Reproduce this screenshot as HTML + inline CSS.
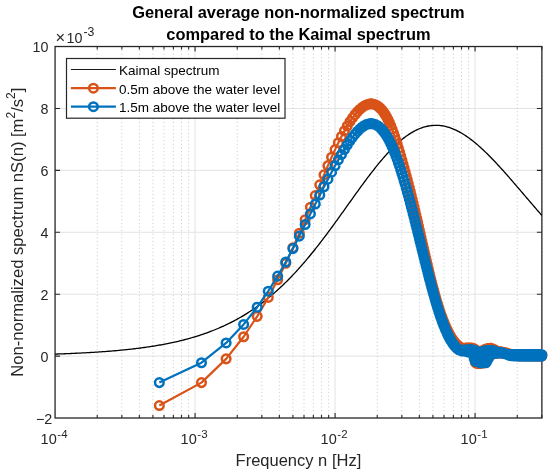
<!DOCTYPE html>
<html><head><meta charset="utf-8"><style>
html,body{margin:0;padding:0;background:#fff;width:550px;height:474px;overflow:hidden}
svg{position:absolute;left:0;top:0}
text{font-family:"Liberation Sans",sans-serif;fill:#262626;filter:grayscale(1)}
.mg{stroke:#e3e3e3;stroke-width:1}
.ng{stroke:#c8c8c8;stroke-width:1;stroke-dasharray:1 2.6}
</style></head><body>
<svg width="550" height="474" viewBox="0 0 550 474">
<defs><clipPath id="ax"><rect x="55.07" y="46.52" width="486.8" height="371.48"/></clipPath></defs>
<line x1="195.07" y1="46.52" x2="195.07" y2="418.0" class="mg"/><line x1="335.07" y1="46.52" x2="335.07" y2="418.0" class="mg"/><line x1="475.07" y1="46.52" x2="475.07" y2="418.0" class="mg"/><line x1="55.07" y1="356.1" x2="541.87" y2="356.1" class="mg"/><line x1="55.07" y1="294.18" x2="541.87" y2="294.18" class="mg"/><line x1="55.07" y1="232.27" x2="541.87" y2="232.27" class="mg"/><line x1="55.07" y1="170.35" x2="541.87" y2="170.35" class="mg"/><line x1="55.07" y1="108.44" x2="541.87" y2="108.44" class="mg"/><line x1="97.21" y1="46.52" x2="97.21" y2="418.0" class="ng"/><line x1="121.87" y1="46.52" x2="121.87" y2="418.0" class="ng"/><line x1="139.36" y1="46.52" x2="139.36" y2="418.0" class="ng"/><line x1="152.93" y1="46.52" x2="152.93" y2="418.0" class="ng"/><line x1="164.01" y1="46.52" x2="164.01" y2="418.0" class="ng"/><line x1="173.38" y1="46.52" x2="173.38" y2="418.0" class="ng"/><line x1="181.5" y1="46.52" x2="181.5" y2="418.0" class="ng"/><line x1="188.66" y1="46.52" x2="188.66" y2="418.0" class="ng"/><line x1="237.21" y1="46.52" x2="237.21" y2="418.0" class="ng"/><line x1="261.87" y1="46.52" x2="261.87" y2="418.0" class="ng"/><line x1="279.36" y1="46.52" x2="279.36" y2="418.0" class="ng"/><line x1="292.93" y1="46.52" x2="292.93" y2="418.0" class="ng"/><line x1="304.01" y1="46.52" x2="304.01" y2="418.0" class="ng"/><line x1="313.38" y1="46.52" x2="313.38" y2="418.0" class="ng"/><line x1="321.5" y1="46.52" x2="321.5" y2="418.0" class="ng"/><line x1="328.66" y1="46.52" x2="328.66" y2="418.0" class="ng"/><line x1="377.21" y1="46.52" x2="377.21" y2="418.0" class="ng"/><line x1="401.87" y1="46.52" x2="401.87" y2="418.0" class="ng"/><line x1="419.36" y1="46.52" x2="419.36" y2="418.0" class="ng"/><line x1="432.93" y1="46.52" x2="432.93" y2="418.0" class="ng"/><line x1="444.01" y1="46.52" x2="444.01" y2="418.0" class="ng"/><line x1="453.38" y1="46.52" x2="453.38" y2="418.0" class="ng"/><line x1="461.5" y1="46.52" x2="461.5" y2="418.0" class="ng"/><line x1="468.66" y1="46.52" x2="468.66" y2="418.0" class="ng"/><line x1="517.21" y1="46.52" x2="517.21" y2="418.0" class="ng"/><line x1="541.87" y1="46.52" x2="541.87" y2="418.0" class="ng"/>
<path d="M195.07 418.0v-5M195.07 46.52v5M335.07 418.0v-5M335.07 46.52v5M475.07 418.0v-5M475.07 46.52v5M97.21 418.0v-3M97.21 46.52v3M121.87 418.0v-3M121.87 46.52v3M139.36 418.0v-3M139.36 46.52v3M152.93 418.0v-3M152.93 46.52v3M164.01 418.0v-3M164.01 46.52v3M173.38 418.0v-3M173.38 46.52v3M181.5 418.0v-3M181.5 46.52v3M188.66 418.0v-3M188.66 46.52v3M237.21 418.0v-3M237.21 46.52v3M261.87 418.0v-3M261.87 46.52v3M279.36 418.0v-3M279.36 46.52v3M292.93 418.0v-3M292.93 46.52v3M304.01 418.0v-3M304.01 46.52v3M313.38 418.0v-3M313.38 46.52v3M321.5 418.0v-3M321.5 46.52v3M328.66 418.0v-3M328.66 46.52v3M377.21 418.0v-3M377.21 46.52v3M401.87 418.0v-3M401.87 46.52v3M419.36 418.0v-3M419.36 46.52v3M432.93 418.0v-3M432.93 46.52v3M444.01 418.0v-3M444.01 46.52v3M453.38 418.0v-3M453.38 46.52v3M461.5 418.0v-3M461.5 46.52v3M468.66 418.0v-3M468.66 46.52v3M517.21 418.0v-3M517.21 46.52v3M541.87 418.0v-3M541.87 46.52v3M55.07 356.1h5M541.87 356.1h-5M55.07 294.18h5M541.87 294.18h-5M55.07 232.27h5M541.87 232.27h-5M55.07 170.35h5M541.87 170.35h-5M55.07 108.44h5M541.87 108.44h-5" stroke="#262626" stroke-width="1.1" fill="none"/>
<rect x="55.07" y="46.52" width="486.8" height="371.48" fill="none" stroke="#262626" stroke-width="1.3"/>
<polyline clip-path="url(#ax)" points="55.07,354.08 56.29,354.04 57.51,354 58.73,353.96 59.95,353.91 61.17,353.87 62.39,353.83 63.61,353.78 64.83,353.73 66.05,353.69 67.27,353.64 68.49,353.59 69.71,353.54 70.93,353.48 72.15,353.43 73.37,353.38 74.59,353.32 75.81,353.27 77.03,353.21 78.25,353.15 79.47,353.09 80.69,353.03 81.91,352.97 83.13,352.91 84.35,352.84 85.57,352.78 86.79,352.71 88.01,352.64 89.23,352.57 90.45,352.5 91.67,352.43 92.89,352.36 94.11,352.28 95.33,352.2 96.55,352.13 97.77,352.05 98.99,351.97 100.21,351.88 101.43,351.8 102.65,351.71 103.87,351.62 105.09,351.53 106.31,351.44 107.53,351.35 108.75,351.25 109.97,351.16 111.19,351.06 112.41,350.96 113.63,350.85 114.85,350.75 116.07,350.64 117.29,350.53 118.51,350.42 119.73,350.31 120.95,350.19 122.17,350.07 123.39,349.95 124.61,349.83 125.83,349.71 127.05,349.58 128.27,349.45 129.49,349.32 130.71,349.18 131.93,349.04 133.15,348.9 134.37,348.76 135.59,348.61 136.81,348.46 138.03,348.31 139.25,348.16 140.47,348 141.69,347.84 142.91,347.67 144.13,347.51 145.35,347.34 146.57,347.16 147.79,346.98 149.01,346.8 150.23,346.62 151.45,346.43 152.67,346.24 153.89,346.04 155.11,345.85 156.33,345.64 157.55,345.44 158.77,345.23 159.99,345.01 161.21,344.79 162.43,344.57 163.65,344.34 164.87,344.11 166.09,343.88 167.31,343.64 168.53,343.39 169.75,343.14 170.97,342.89 172.19,342.63 173.41,342.36 174.63,342.09 175.85,341.82 177.07,341.54 178.29,341.26 179.51,340.97 180.73,340.67 181.95,340.37 183.17,340.06 184.39,339.75 185.61,339.43 186.83,339.11 188.05,338.78 189.27,338.44 190.49,338.1 191.71,337.75 192.93,337.39 194.15,337.03 195.37,336.66 196.59,336.29 197.81,335.91 199.04,335.52 200.26,335.12 201.48,334.72 202.7,334.31 203.92,333.89 205.14,333.46 206.36,333.03 207.58,332.59 208.8,332.14 210.02,331.68 211.24,331.22 212.46,330.74 213.68,330.26 214.9,329.77 216.12,329.27 217.34,328.77 218.56,328.25 219.78,327.72 221,327.19 222.22,326.64 223.44,326.09 224.66,325.53 225.88,324.95 227.1,324.37 228.32,323.78 229.54,323.18 230.76,322.56 231.98,321.94 233.2,321.31 234.42,320.66 235.64,320.01 236.86,319.34 238.08,318.66 239.3,317.98 240.52,317.28 241.74,316.57 242.96,315.84 244.18,315.11 245.4,314.36 246.62,313.61 247.84,312.84 249.06,312.05 250.28,311.26 251.5,310.45 252.72,309.63 253.94,308.8 255.16,307.96 256.38,307.1 257.6,306.23 258.82,305.34 260.04,304.45 261.26,303.54 262.48,302.61 263.7,301.68 264.92,300.73 266.14,299.76 267.36,298.78 268.58,297.79 269.8,296.78 271.02,295.76 272.24,294.73 273.46,293.68 274.68,292.62 275.9,291.54 277.12,290.45 278.34,289.34 279.56,288.22 280.78,287.08 282,285.93 283.22,284.77 284.44,283.59 285.66,282.4 286.88,281.19 288.1,279.96 289.32,278.73 290.54,277.47 291.76,276.21 292.98,274.92 294.2,273.63 295.42,272.32 296.64,270.99 297.86,269.65 299.08,268.3 300.3,266.93 301.52,265.55 302.74,264.16 303.96,262.75 305.18,261.32 306.4,259.89 307.62,258.44 308.84,256.97 310.06,255.5 311.28,254.01 312.5,252.51 313.72,250.99 314.94,249.47 316.16,247.93 317.38,246.38 318.6,244.82 319.82,243.25 321.04,241.67 322.26,240.07 323.48,238.47 324.7,236.86 325.92,235.24 327.14,233.61 328.36,231.97 329.58,230.32 330.8,228.66 332.02,227 333.24,225.33 334.46,223.65 335.68,221.97 336.9,220.28 338.12,218.59 339.34,216.89 340.56,215.19 341.78,213.48 343,211.77 344.22,210.06 345.44,208.35 346.66,206.64 347.88,204.92 349.1,203.21 350.32,201.5 351.54,199.79 352.76,198.08 353.98,196.37 355.2,194.67 356.42,192.97 357.64,191.27 358.86,189.59 360.08,187.9 361.3,186.23 362.52,184.56 363.74,182.9 364.96,181.25 366.18,179.61 367.4,177.98 368.62,176.37 369.84,174.76 371.06,173.17 372.28,171.59 373.5,170.03 374.72,168.48 375.94,166.95 377.16,165.43 378.38,163.94 379.6,162.46 380.82,161 382.04,159.56 383.26,158.14 384.48,156.74 385.7,155.37 386.92,154.02 388.14,152.69 389.36,151.38 390.58,150.1 391.8,148.85 393.02,147.63 394.24,146.43 395.46,145.25 396.68,144.11 397.9,143 399.12,141.91 400.34,140.86 401.56,139.84 402.78,138.84 404,137.88 405.22,136.96 406.44,136.06 407.66,135.2 408.88,134.37 410.1,133.58 411.32,132.82 412.54,132.1 413.76,131.41 414.98,130.75 416.2,130.14 417.42,129.56 418.64,129.01 419.86,128.51 421.08,128.04 422.3,127.6 423.52,127.21 424.74,126.85 425.96,126.53 427.18,126.24 428.4,126 429.62,125.79 430.84,125.62 432.06,125.49 433.28,125.39 434.5,125.33 435.72,125.31 436.94,125.33 438.16,125.38 439.38,125.47 440.6,125.6 441.82,125.76 443.04,125.96 444.26,126.19 445.48,126.46 446.7,126.77 447.92,127.11 449.14,127.49 450.36,127.9 451.58,128.34 452.8,128.82 454.02,129.33 455.24,129.87 456.46,130.44 457.68,131.05 458.9,131.68 460.12,132.35 461.34,133.05 462.56,133.77 463.78,134.53 465,135.31 466.22,136.12 467.44,136.96 468.66,137.83 469.88,138.72 471.1,139.64 472.32,140.58 473.54,141.54 474.76,142.53 475.98,143.54 477.2,144.58 478.42,145.63 479.64,146.71 480.86,147.81 482.08,148.92 483.3,150.06 484.52,151.21 485.75,152.38 486.97,153.57 488.19,154.78 489.41,156 490.63,157.24 491.85,158.49 493.07,159.75 494.29,161.03 495.51,162.32 496.73,163.63 497.95,164.94 499.17,166.27 500.39,167.6 501.61,168.95 502.83,170.3 504.05,171.67 505.27,173.04 506.49,174.42 507.71,175.8 508.93,177.19 510.15,178.59 511.37,180 512.59,181.4 513.81,182.82 515.03,184.23 516.25,185.65 517.47,187.07 518.69,188.5 519.91,189.92 521.13,191.35 522.35,192.78 523.57,194.21 524.79,195.64 526.01,197.07 527.23,198.5 528.45,199.92 529.67,201.35 530.89,202.77 532.11,204.2 533.33,205.61 534.55,207.03 535.77,208.45 536.99,209.86 538.21,211.26 539.43,212.66 540.65,214.06 541.87,215.45" fill="none" stroke="#000" stroke-width="1.3"/>
<polyline clip-path="url(#ax)" points="159.33,405.57 201.48,382.61 226.13,358.87 243.62,336.75 257.19,316.33 268.27,297.41 277.65,279.78 285.76,263.25 292.93,247.71 299.33,233.19 305.13,219.7 310.42,207.18 315.28,195.57 319.79,184.81 323.98,174.84 327.91,165.66 331.59,157.26 335.07,149.62 338.36,142.7 341.48,136.48 344.44,130.91 347.27,125.97 349.97,121.61 352.56,117.81 355.04,114.54 357.43,111.75 359.72,109.43 361.93,107.55 364.07,106.08 366.13,104.99 368.12,104.28 370.05,103.91 371.92,103.89 373.74,104.19 375.5,104.82 377.21,105.74 378.88,106.96 380.5,108.46 382.08,110.23 383.62,112.25 385.12,114.53 386.59,117.04 388.02,119.79 389.42,122.75 390.78,125.92 392.12,129.3 393.43,132.86 394.71,136.55 395.96,140.36 397.19,144.25 398.39,148.2 399.57,152.17 400.73,156.16 401.87,160.13 402.98,164.09 404.08,168.03 405.15,171.96 406.21,175.88 407.25,179.79 408.27,183.7 409.28,187.6 410.27,191.5 411.24,195.4 412.2,199.3 413.14,203.2 414.07,207.1 414.98,210.98 415.88,214.86 416.77,218.71 417.65,222.53 418.51,226.32 419.36,230.07 420.2,233.78 421.02,237.44 421.84,241.05 422.65,244.61 423.44,248.12 424.23,251.57 425,254.95 425.76,258.28 426.52,261.53 427.27,264.73 428,267.85 428.73,270.91 429.45,273.89 430.16,276.8 430.86,279.65 431.56,282.41 432.25,285.11 432.93,287.73 433.6,290.27 434.26,292.74 434.92,295.13 435.57,297.45 436.21,299.69 436.85,301.85 437.48,303.95 438.1,305.97 438.72,307.92 439.33,309.8 439.94,311.62 440.54,313.38 441.13,315.07 441.72,316.71 442.3,318.29 442.87,319.81 443.45,321.27 444.01,322.69 444.57,324.05 445.13,325.36 445.68,326.62 446.22,327.84 446.76,329.01 447.3,330.13 447.83,331.21 448.36,332.25 448.88,333.25 449.4,334.2 449.91,335.12 450.42,336 450.92,336.84 451.42,337.64 451.92,338.41 452.41,339.15 452.9,339.85 453.38,340.52 453.86,341.16 454.34,341.76 454.81,342.34 455.28,342.88 455.75,343.4 456.21,343.89 456.67,344.35 457.13,344.78 457.58,345.19 458.03,345.57 458.47,345.93 458.91,346.26 459.35,346.57 459.79,346.85 460.22,347.11 460.65,347.35 461.08,347.57 461.5,347.77 461.92,347.95 462.34,348.1 462.76,348.24 463.17,348.36 463.58,348.46 463.98,348.54 464.39,349.19 464.79,348.31 465.19,349.59 465.58,348.14 465.98,349.99 466.37,348.03 466.76,350.38 467.14,348 467.53,350.76 467.91,348 468.29,351.14 468.66,348 469.04,351.52 469.41,348 469.78,351.89 470.15,348 470.51,352.26 470.88,348.03 471.24,352.61 471.59,348.1 471.95,352.86 472.31,348.2 472.66,353.11 473.01,348.32 473.36,353.46 473.7,348.5 474.05,354.08 474.39,348.93 474.73,358.85 475.07,349.49 475.41,362.43 475.74,350 476.08,363.04 476.41,350.41 476.74,363.36 477.06,350.85 477.39,363.43 477.71,351.26 478.04,363.46 478.36,351.59 478.68,363.48 478.99,351.78 479.31,363.5 479.62,351.78 479.94,363.5 480.25,351.63 480.56,363.48 480.86,351.38 481.17,363.4 481.48,351.08 481.78,363.29 482.08,350.78 482.38,363.15 482.68,350.51 482.98,363.01 483.27,350.26 483.57,362.83 483.86,349.98 484.15,362.61 484.44,349.7 484.73,362.33 485.02,349.42 485.3,361.99 485.59,349.18 485.87,361.6 486.16,348.98 486.44,361.03 486.72,348.83 486.99,360.16 487.27,348.74 487.55,359.2 487.82,348.66 488.09,358.37 488.37,348.59 488.64,357.62 488.91,348.53 489.18,356.9 489.44,348.48 489.71,356.28 489.97,348.44 490.24,355.79 490.5,348.41 490.76,355.35 491.02,348.4 491.28,354.95 491.54,348.44 491.8,354.6 492.05,348.56 492.31,354.3 492.56,348.76 492.81,354.07 493.07,348.99 493.32,353.89 493.57,349.24 493.82,353.74 494.06,349.5 494.31,353.61 494.56,349.72 494.8,353.5 495.04,349.97 495.29,353.4 495.53,350.24 495.77,353.33 496.01,350.53 496.25,353.27 496.49,350.81 496.72,353.22 496.96,351.06 497.19,353.17 497.43,351.27 497.66,353.12 497.89,351.43 498.13,353.08 498.36,351.54 498.59,353.05 498.82,351.64 499.04,353.02 499.27,351.73 499.5,353.01 499.72,351.81 499.95,353 500.17,351.88 500.39,353 500.62,351.95 500.84,353.01 501.06,352.02 501.28,353.03 501.5,352.09 501.72,353.06 501.93,352.17 502.15,353.09 502.37,352.25 502.58,353.12 502.8,352.34 503.01,353.16 503.22,352.43 503.44,353.21 503.65,352.52 503.86,353.25 504.07,352.61 504.28,353.3 504.49,352.7 504.69,353.35 504.9,352.79 505.11,353.39 505.31,352.88 505.52,353.44 505.72,352.97 505.93,353.49 506.13,353.06 506.33,353.54 506.53,353.15 506.73,353.61 506.93,353.25 507.13,353.68 507.33,353.35 507.53,353.77 507.73,353.45 507.93,353.86 508.12,353.56 508.32,353.96 508.51,353.67 508.71,354.07 508.9,353.78 509.1,354.18 509.29,353.9 509.48,354.29 509.67,354.01 509.86,354.4 510.05,354.12 510.24,354.51 510.43,354.22 510.62,354.62 510.81,354.33 511,354.73 511.18,354.43 511.37,354.84 511.55,354.52 511.74,354.94 511.92,354.61 512.11,355.03 512.29,354.69 512.47,355.12 512.66,354.76 512.84,355.21 513.02,354.82 513.2,355.28 513.38,354.88 513.56,355.34 513.74,354.93 513.92,355.4 514.1,354.96 514.27,355.44 514.45,354.99 514.63,355.48 514.8,355 514.98,355.5 515.15,355 515.33,355.51 515.5,355 515.67,355.53 515.85,355 516.02,355.54 516.19,355 516.36,355.55 516.53,355 516.71,355.57 516.88,355 517.05,355.58 517.21,355 517.38,355.59 517.55,355 517.72,355.6 517.89,355 518.05,355.61 518.22,355 518.39,355.63 518.55,355 518.72,355.64 518.88,355 519.04,355.65 519.21,355 519.37,355.66 519.53,355 519.7,355.67 519.86,355 520.02,355.68 520.18,355 520.34,355.69 520.5,355 520.66,355.7 520.82,355 520.98,355.71 521.14,355 521.3,355.72 521.45,355 521.61,355.73 521.77,355 521.92,355.73 522.08,355 522.24,355.74 522.39,355 522.55,355.75 522.7,355 522.86,355.76 523.01,355 523.16,355.77 523.32,355 523.47,355.78 523.62,355 523.77,355.78 523.92,355 524.07,355.79 524.23,355 524.38,355.8 524.53,355 524.68,355.81 524.82,355 524.97,355.81 525.12,355 525.27,355.82 525.42,355 525.56,355.83 525.71,355 525.86,355.83 526,355 526.15,355.84 526.3,355 526.44,355.85 526.59,355 526.73,355.85 526.88,355 527.02,355.86 527.16,355 527.31,355.86 527.45,355 527.59,355.87 527.73,355 527.88,355.87 528.02,355 528.16,355.88 528.3,355 528.44,355.88 528.58,355 528.72,355.89 528.86,355 529,355.89 529.14,355 529.28,355.9 529.42,355 529.55,355.9 529.69,355 529.83,355.91 529.97,355 530.1,355.91 530.24,355 530.37,355.92 530.51,355 530.65,355.92 530.78,355 530.92,355.92 531.05,355 531.19,355.93 531.32,355 531.45,355.93 531.59,355 531.72,355.93 531.85,355 531.99,355.94 532.12,355 532.25,355.94 532.38,355 532.51,355.94 532.64,355 532.78,355.95 532.91,355 533.04,355.95 533.17,355 533.3,355.95 533.43,355 533.55,355.96 533.68,355 533.81,355.96 533.94,355 534.07,355.96 534.2,355 534.32,355.96 534.45,355 534.58,355.97 534.71,355 534.83,355.97 534.96,355 535.08,355.97 535.21,355 535.34,355.97 535.46,355 535.59,355.98 535.71,355 535.84,355.98 535.96,355 536.08,355.98 536.21,355 536.33,355.98 536.45,355 536.58,355.98 536.7,355 536.82,355.98 536.94,355 537.07,355.99 537.19,355 537.31,355.99 537.43,355 537.55,355.99 537.67,355 537.79,355.99 537.91,355 538.03,355.99 538.15,355 538.27,355.99 538.39,355 538.51,355.99 538.63,355 538.75,355.99 538.87,355 538.98,355.99 539.1,355 539.22,356 539.34,355 539.46,356 539.57,355 539.69,356 539.81,355 539.92,356 540.04,355 540.15,356 540.27,355 540.39,356 540.5,355 540.62,356 540.73,355 540.85,356 540.96,355 541.07,356 541.19,355 541.3,356 541.41,355 541.53,356 541.64,355 541.75,356 541.87,355" fill="none" stroke="#D95319" stroke-width="2.2" stroke-linejoin="round"/>
<path d="M155.03 405.57a4.3 4.3 0 1 0 8.6 0a4.3 4.3 0 1 0 -8.6 0M197.18 382.61a4.3 4.3 0 1 0 8.6 0a4.3 4.3 0 1 0 -8.6 0M221.83 358.87a4.3 4.3 0 1 0 8.6 0a4.3 4.3 0 1 0 -8.6 0M239.32 336.75a4.3 4.3 0 1 0 8.6 0a4.3 4.3 0 1 0 -8.6 0M252.89 316.33a4.3 4.3 0 1 0 8.6 0a4.3 4.3 0 1 0 -8.6 0M263.97 297.41a4.3 4.3 0 1 0 8.6 0a4.3 4.3 0 1 0 -8.6 0M273.35 279.78a4.3 4.3 0 1 0 8.6 0a4.3 4.3 0 1 0 -8.6 0M281.46 263.25a4.3 4.3 0 1 0 8.6 0a4.3 4.3 0 1 0 -8.6 0M288.63 247.71a4.3 4.3 0 1 0 8.6 0a4.3 4.3 0 1 0 -8.6 0M295.03 233.19a4.3 4.3 0 1 0 8.6 0a4.3 4.3 0 1 0 -8.6 0M300.83 219.7a4.3 4.3 0 1 0 8.6 0a4.3 4.3 0 1 0 -8.6 0M306.12 207.18a4.3 4.3 0 1 0 8.6 0a4.3 4.3 0 1 0 -8.6 0M310.98 195.57a4.3 4.3 0 1 0 8.6 0a4.3 4.3 0 1 0 -8.6 0M315.49 184.81a4.3 4.3 0 1 0 8.6 0a4.3 4.3 0 1 0 -8.6 0M319.68 174.84a4.3 4.3 0 1 0 8.6 0a4.3 4.3 0 1 0 -8.6 0M323.61 165.66a4.3 4.3 0 1 0 8.6 0a4.3 4.3 0 1 0 -8.6 0M327.29 157.26a4.3 4.3 0 1 0 8.6 0a4.3 4.3 0 1 0 -8.6 0M330.77 149.62a4.3 4.3 0 1 0 8.6 0a4.3 4.3 0 1 0 -8.6 0M334.06 142.7a4.3 4.3 0 1 0 8.6 0a4.3 4.3 0 1 0 -8.6 0M337.18 136.48a4.3 4.3 0 1 0 8.6 0a4.3 4.3 0 1 0 -8.6 0M340.14 130.91a4.3 4.3 0 1 0 8.6 0a4.3 4.3 0 1 0 -8.6 0M342.97 125.97a4.3 4.3 0 1 0 8.6 0a4.3 4.3 0 1 0 -8.6 0M345.67 121.61a4.3 4.3 0 1 0 8.6 0a4.3 4.3 0 1 0 -8.6 0M348.26 117.81a4.3 4.3 0 1 0 8.6 0a4.3 4.3 0 1 0 -8.6 0M350.74 114.54a4.3 4.3 0 1 0 8.6 0a4.3 4.3 0 1 0 -8.6 0M353.13 111.75a4.3 4.3 0 1 0 8.6 0a4.3 4.3 0 1 0 -8.6 0M355.42 109.43a4.3 4.3 0 1 0 8.6 0a4.3 4.3 0 1 0 -8.6 0M357.63 107.55a4.3 4.3 0 1 0 8.6 0a4.3 4.3 0 1 0 -8.6 0M359.77 106.08a4.3 4.3 0 1 0 8.6 0a4.3 4.3 0 1 0 -8.6 0M361.83 104.99a4.3 4.3 0 1 0 8.6 0a4.3 4.3 0 1 0 -8.6 0M363.82 104.28a4.3 4.3 0 1 0 8.6 0a4.3 4.3 0 1 0 -8.6 0M365.75 103.91a4.3 4.3 0 1 0 8.6 0a4.3 4.3 0 1 0 -8.6 0M367.62 103.89a4.3 4.3 0 1 0 8.6 0a4.3 4.3 0 1 0 -8.6 0M369.44 104.19a4.3 4.3 0 1 0 8.6 0a4.3 4.3 0 1 0 -8.6 0M371.2 104.82a4.3 4.3 0 1 0 8.6 0a4.3 4.3 0 1 0 -8.6 0M372.91 105.74a4.3 4.3 0 1 0 8.6 0a4.3 4.3 0 1 0 -8.6 0M374.58 106.96a4.3 4.3 0 1 0 8.6 0a4.3 4.3 0 1 0 -8.6 0M376.2 108.46a4.3 4.3 0 1 0 8.6 0a4.3 4.3 0 1 0 -8.6 0M377.78 110.23a4.3 4.3 0 1 0 8.6 0a4.3 4.3 0 1 0 -8.6 0M379.32 112.25a4.3 4.3 0 1 0 8.6 0a4.3 4.3 0 1 0 -8.6 0M380.82 114.53a4.3 4.3 0 1 0 8.6 0a4.3 4.3 0 1 0 -8.6 0M382.29 117.04a4.3 4.3 0 1 0 8.6 0a4.3 4.3 0 1 0 -8.6 0M383.72 119.79a4.3 4.3 0 1 0 8.6 0a4.3 4.3 0 1 0 -8.6 0M385.12 122.75a4.3 4.3 0 1 0 8.6 0a4.3 4.3 0 1 0 -8.6 0M386.48 125.92a4.3 4.3 0 1 0 8.6 0a4.3 4.3 0 1 0 -8.6 0M387.82 129.3a4.3 4.3 0 1 0 8.6 0a4.3 4.3 0 1 0 -8.6 0M389.13 132.86a4.3 4.3 0 1 0 8.6 0a4.3 4.3 0 1 0 -8.6 0M390.41 136.55a4.3 4.3 0 1 0 8.6 0a4.3 4.3 0 1 0 -8.6 0M391.66 140.36a4.3 4.3 0 1 0 8.6 0a4.3 4.3 0 1 0 -8.6 0M392.89 144.25a4.3 4.3 0 1 0 8.6 0a4.3 4.3 0 1 0 -8.6 0M394.09 148.2a4.3 4.3 0 1 0 8.6 0a4.3 4.3 0 1 0 -8.6 0M395.27 152.17a4.3 4.3 0 1 0 8.6 0a4.3 4.3 0 1 0 -8.6 0M396.43 156.16a4.3 4.3 0 1 0 8.6 0a4.3 4.3 0 1 0 -8.6 0M397.57 160.13a4.3 4.3 0 1 0 8.6 0a4.3 4.3 0 1 0 -8.6 0M398.68 164.09a4.3 4.3 0 1 0 8.6 0a4.3 4.3 0 1 0 -8.6 0M399.78 168.03a4.3 4.3 0 1 0 8.6 0a4.3 4.3 0 1 0 -8.6 0M400.85 171.96a4.3 4.3 0 1 0 8.6 0a4.3 4.3 0 1 0 -8.6 0M401.91 175.88a4.3 4.3 0 1 0 8.6 0a4.3 4.3 0 1 0 -8.6 0M402.95 179.79a4.3 4.3 0 1 0 8.6 0a4.3 4.3 0 1 0 -8.6 0M403.97 183.7a4.3 4.3 0 1 0 8.6 0a4.3 4.3 0 1 0 -8.6 0M404.98 187.6a4.3 4.3 0 1 0 8.6 0a4.3 4.3 0 1 0 -8.6 0M405.97 191.5a4.3 4.3 0 1 0 8.6 0a4.3 4.3 0 1 0 -8.6 0M406.94 195.4a4.3 4.3 0 1 0 8.6 0a4.3 4.3 0 1 0 -8.6 0M407.9 199.3a4.3 4.3 0 1 0 8.6 0a4.3 4.3 0 1 0 -8.6 0M408.84 203.2a4.3 4.3 0 1 0 8.6 0a4.3 4.3 0 1 0 -8.6 0M409.77 207.1a4.3 4.3 0 1 0 8.6 0a4.3 4.3 0 1 0 -8.6 0M410.68 210.98a4.3 4.3 0 1 0 8.6 0a4.3 4.3 0 1 0 -8.6 0M411.58 214.86a4.3 4.3 0 1 0 8.6 0a4.3 4.3 0 1 0 -8.6 0M412.47 218.71a4.3 4.3 0 1 0 8.6 0a4.3 4.3 0 1 0 -8.6 0M413.35 222.53a4.3 4.3 0 1 0 8.6 0a4.3 4.3 0 1 0 -8.6 0M414.21 226.32a4.3 4.3 0 1 0 8.6 0a4.3 4.3 0 1 0 -8.6 0M415.06 230.07a4.3 4.3 0 1 0 8.6 0a4.3 4.3 0 1 0 -8.6 0M415.9 233.78a4.3 4.3 0 1 0 8.6 0a4.3 4.3 0 1 0 -8.6 0M416.72 237.44a4.3 4.3 0 1 0 8.6 0a4.3 4.3 0 1 0 -8.6 0M417.54 241.05a4.3 4.3 0 1 0 8.6 0a4.3 4.3 0 1 0 -8.6 0M418.35 244.61a4.3 4.3 0 1 0 8.6 0a4.3 4.3 0 1 0 -8.6 0M419.14 248.12a4.3 4.3 0 1 0 8.6 0a4.3 4.3 0 1 0 -8.6 0M419.93 251.57a4.3 4.3 0 1 0 8.6 0a4.3 4.3 0 1 0 -8.6 0M420.7 254.95a4.3 4.3 0 1 0 8.6 0a4.3 4.3 0 1 0 -8.6 0M421.46 258.28a4.3 4.3 0 1 0 8.6 0a4.3 4.3 0 1 0 -8.6 0M422.22 261.53a4.3 4.3 0 1 0 8.6 0a4.3 4.3 0 1 0 -8.6 0M422.97 264.73a4.3 4.3 0 1 0 8.6 0a4.3 4.3 0 1 0 -8.6 0M423.7 267.85a4.3 4.3 0 1 0 8.6 0a4.3 4.3 0 1 0 -8.6 0M424.43 270.91a4.3 4.3 0 1 0 8.6 0a4.3 4.3 0 1 0 -8.6 0M425.15 273.89a4.3 4.3 0 1 0 8.6 0a4.3 4.3 0 1 0 -8.6 0M425.86 276.8a4.3 4.3 0 1 0 8.6 0a4.3 4.3 0 1 0 -8.6 0M426.56 279.65a4.3 4.3 0 1 0 8.6 0a4.3 4.3 0 1 0 -8.6 0M427.26 282.41a4.3 4.3 0 1 0 8.6 0a4.3 4.3 0 1 0 -8.6 0M427.95 285.11a4.3 4.3 0 1 0 8.6 0a4.3 4.3 0 1 0 -8.6 0M428.63 287.73a4.3 4.3 0 1 0 8.6 0a4.3 4.3 0 1 0 -8.6 0M429.3 290.27a4.3 4.3 0 1 0 8.6 0a4.3 4.3 0 1 0 -8.6 0M429.96 292.74a4.3 4.3 0 1 0 8.6 0a4.3 4.3 0 1 0 -8.6 0M430.62 295.13a4.3 4.3 0 1 0 8.6 0a4.3 4.3 0 1 0 -8.6 0M431.27 297.45a4.3 4.3 0 1 0 8.6 0a4.3 4.3 0 1 0 -8.6 0M431.91 299.69a4.3 4.3 0 1 0 8.6 0a4.3 4.3 0 1 0 -8.6 0M432.55 301.85a4.3 4.3 0 1 0 8.6 0a4.3 4.3 0 1 0 -8.6 0M433.18 303.95a4.3 4.3 0 1 0 8.6 0a4.3 4.3 0 1 0 -8.6 0M433.8 305.97a4.3 4.3 0 1 0 8.6 0a4.3 4.3 0 1 0 -8.6 0M434.42 307.92a4.3 4.3 0 1 0 8.6 0a4.3 4.3 0 1 0 -8.6 0M435.03 309.8a4.3 4.3 0 1 0 8.6 0a4.3 4.3 0 1 0 -8.6 0M435.64 311.62a4.3 4.3 0 1 0 8.6 0a4.3 4.3 0 1 0 -8.6 0M436.24 313.38a4.3 4.3 0 1 0 8.6 0a4.3 4.3 0 1 0 -8.6 0M436.83 315.07a4.3 4.3 0 1 0 8.6 0a4.3 4.3 0 1 0 -8.6 0M437.42 316.71a4.3 4.3 0 1 0 8.6 0a4.3 4.3 0 1 0 -8.6 0M438 318.29a4.3 4.3 0 1 0 8.6 0a4.3 4.3 0 1 0 -8.6 0M438.57 319.81a4.3 4.3 0 1 0 8.6 0a4.3 4.3 0 1 0 -8.6 0M439.15 321.27a4.3 4.3 0 1 0 8.6 0a4.3 4.3 0 1 0 -8.6 0M439.71 322.69a4.3 4.3 0 1 0 8.6 0a4.3 4.3 0 1 0 -8.6 0M440.27 324.05a4.3 4.3 0 1 0 8.6 0a4.3 4.3 0 1 0 -8.6 0M440.83 325.36a4.3 4.3 0 1 0 8.6 0a4.3 4.3 0 1 0 -8.6 0M441.38 326.62a4.3 4.3 0 1 0 8.6 0a4.3 4.3 0 1 0 -8.6 0M441.92 327.84a4.3 4.3 0 1 0 8.6 0a4.3 4.3 0 1 0 -8.6 0M442.46 329.01a4.3 4.3 0 1 0 8.6 0a4.3 4.3 0 1 0 -8.6 0M443 330.13a4.3 4.3 0 1 0 8.6 0a4.3 4.3 0 1 0 -8.6 0M443.53 331.21a4.3 4.3 0 1 0 8.6 0a4.3 4.3 0 1 0 -8.6 0M444.06 332.25a4.3 4.3 0 1 0 8.6 0a4.3 4.3 0 1 0 -8.6 0M444.58 333.25a4.3 4.3 0 1 0 8.6 0a4.3 4.3 0 1 0 -8.6 0M445.1 334.2a4.3 4.3 0 1 0 8.6 0a4.3 4.3 0 1 0 -8.6 0M445.61 335.12a4.3 4.3 0 1 0 8.6 0a4.3 4.3 0 1 0 -8.6 0M446.12 336a4.3 4.3 0 1 0 8.6 0a4.3 4.3 0 1 0 -8.6 0M446.62 336.84a4.3 4.3 0 1 0 8.6 0a4.3 4.3 0 1 0 -8.6 0M447.12 337.64a4.3 4.3 0 1 0 8.6 0a4.3 4.3 0 1 0 -8.6 0M447.62 338.41a4.3 4.3 0 1 0 8.6 0a4.3 4.3 0 1 0 -8.6 0M448.11 339.15a4.3 4.3 0 1 0 8.6 0a4.3 4.3 0 1 0 -8.6 0M448.6 339.85a4.3 4.3 0 1 0 8.6 0a4.3 4.3 0 1 0 -8.6 0M449.08 340.52a4.3 4.3 0 1 0 8.6 0a4.3 4.3 0 1 0 -8.6 0M449.56 341.16a4.3 4.3 0 1 0 8.6 0a4.3 4.3 0 1 0 -8.6 0M450.04 341.76a4.3 4.3 0 1 0 8.6 0a4.3 4.3 0 1 0 -8.6 0M450.51 342.34a4.3 4.3 0 1 0 8.6 0a4.3 4.3 0 1 0 -8.6 0M450.98 342.88a4.3 4.3 0 1 0 8.6 0a4.3 4.3 0 1 0 -8.6 0M451.45 343.4a4.3 4.3 0 1 0 8.6 0a4.3 4.3 0 1 0 -8.6 0M451.91 343.89a4.3 4.3 0 1 0 8.6 0a4.3 4.3 0 1 0 -8.6 0M452.37 344.35a4.3 4.3 0 1 0 8.6 0a4.3 4.3 0 1 0 -8.6 0M452.83 344.78a4.3 4.3 0 1 0 8.6 0a4.3 4.3 0 1 0 -8.6 0M453.28 345.19a4.3 4.3 0 1 0 8.6 0a4.3 4.3 0 1 0 -8.6 0M453.73 345.57a4.3 4.3 0 1 0 8.6 0a4.3 4.3 0 1 0 -8.6 0M454.17 345.93a4.3 4.3 0 1 0 8.6 0a4.3 4.3 0 1 0 -8.6 0M454.61 346.26a4.3 4.3 0 1 0 8.6 0a4.3 4.3 0 1 0 -8.6 0M455.05 346.57a4.3 4.3 0 1 0 8.6 0a4.3 4.3 0 1 0 -8.6 0M455.49 346.85a4.3 4.3 0 1 0 8.6 0a4.3 4.3 0 1 0 -8.6 0M455.92 347.11a4.3 4.3 0 1 0 8.6 0a4.3 4.3 0 1 0 -8.6 0M456.35 347.35a4.3 4.3 0 1 0 8.6 0a4.3 4.3 0 1 0 -8.6 0M456.78 347.57a4.3 4.3 0 1 0 8.6 0a4.3 4.3 0 1 0 -8.6 0M457.2 347.77a4.3 4.3 0 1 0 8.6 0a4.3 4.3 0 1 0 -8.6 0M457.62 347.95a4.3 4.3 0 1 0 8.6 0a4.3 4.3 0 1 0 -8.6 0M458.04 348.1a4.3 4.3 0 1 0 8.6 0a4.3 4.3 0 1 0 -8.6 0M458.46 348.24a4.3 4.3 0 1 0 8.6 0a4.3 4.3 0 1 0 -8.6 0M458.87 348.36a4.3 4.3 0 1 0 8.6 0a4.3 4.3 0 1 0 -8.6 0M459.28 348.46a4.3 4.3 0 1 0 8.6 0a4.3 4.3 0 1 0 -8.6 0M459.68 348.54a4.3 4.3 0 1 0 8.6 0a4.3 4.3 0 1 0 -8.6 0M460.09 349.19a4.3 4.3 0 1 0 8.6 0a4.3 4.3 0 1 0 -8.6 0M460.49 348.31a4.3 4.3 0 1 0 8.6 0a4.3 4.3 0 1 0 -8.6 0M460.89 349.59a4.3 4.3 0 1 0 8.6 0a4.3 4.3 0 1 0 -8.6 0M461.28 348.14a4.3 4.3 0 1 0 8.6 0a4.3 4.3 0 1 0 -8.6 0M461.68 349.99a4.3 4.3 0 1 0 8.6 0a4.3 4.3 0 1 0 -8.6 0M462.07 348.03a4.3 4.3 0 1 0 8.6 0a4.3 4.3 0 1 0 -8.6 0M462.46 350.38a4.3 4.3 0 1 0 8.6 0a4.3 4.3 0 1 0 -8.6 0M462.84 348a4.3 4.3 0 1 0 8.6 0a4.3 4.3 0 1 0 -8.6 0M463.23 350.76a4.3 4.3 0 1 0 8.6 0a4.3 4.3 0 1 0 -8.6 0M463.61 348a4.3 4.3 0 1 0 8.6 0a4.3 4.3 0 1 0 -8.6 0M463.99 351.14a4.3 4.3 0 1 0 8.6 0a4.3 4.3 0 1 0 -8.6 0M464.36 348a4.3 4.3 0 1 0 8.6 0a4.3 4.3 0 1 0 -8.6 0M464.74 351.52a4.3 4.3 0 1 0 8.6 0a4.3 4.3 0 1 0 -8.6 0M465.11 348a4.3 4.3 0 1 0 8.6 0a4.3 4.3 0 1 0 -8.6 0M465.48 351.89a4.3 4.3 0 1 0 8.6 0a4.3 4.3 0 1 0 -8.6 0M465.85 348a4.3 4.3 0 1 0 8.6 0a4.3 4.3 0 1 0 -8.6 0M466.21 352.26a4.3 4.3 0 1 0 8.6 0a4.3 4.3 0 1 0 -8.6 0M466.58 348.03a4.3 4.3 0 1 0 8.6 0a4.3 4.3 0 1 0 -8.6 0M466.94 352.61a4.3 4.3 0 1 0 8.6 0a4.3 4.3 0 1 0 -8.6 0M467.29 348.1a4.3 4.3 0 1 0 8.6 0a4.3 4.3 0 1 0 -8.6 0M467.65 352.86a4.3 4.3 0 1 0 8.6 0a4.3 4.3 0 1 0 -8.6 0M468.01 348.2a4.3 4.3 0 1 0 8.6 0a4.3 4.3 0 1 0 -8.6 0M468.36 353.11a4.3 4.3 0 1 0 8.6 0a4.3 4.3 0 1 0 -8.6 0M468.71 348.32a4.3 4.3 0 1 0 8.6 0a4.3 4.3 0 1 0 -8.6 0M469.06 353.46a4.3 4.3 0 1 0 8.6 0a4.3 4.3 0 1 0 -8.6 0M469.4 348.5a4.3 4.3 0 1 0 8.6 0a4.3 4.3 0 1 0 -8.6 0M469.75 354.08a4.3 4.3 0 1 0 8.6 0a4.3 4.3 0 1 0 -8.6 0M470.09 348.93a4.3 4.3 0 1 0 8.6 0a4.3 4.3 0 1 0 -8.6 0M470.43 358.85a4.3 4.3 0 1 0 8.6 0a4.3 4.3 0 1 0 -8.6 0M470.77 349.49a4.3 4.3 0 1 0 8.6 0a4.3 4.3 0 1 0 -8.6 0M471.11 362.43a4.3 4.3 0 1 0 8.6 0a4.3 4.3 0 1 0 -8.6 0M471.44 350a4.3 4.3 0 1 0 8.6 0a4.3 4.3 0 1 0 -8.6 0M471.78 363.04a4.3 4.3 0 1 0 8.6 0a4.3 4.3 0 1 0 -8.6 0M472.11 350.41a4.3 4.3 0 1 0 8.6 0a4.3 4.3 0 1 0 -8.6 0M472.44 363.36a4.3 4.3 0 1 0 8.6 0a4.3 4.3 0 1 0 -8.6 0M472.76 350.85a4.3 4.3 0 1 0 8.6 0a4.3 4.3 0 1 0 -8.6 0M473.09 363.43a4.3 4.3 0 1 0 8.6 0a4.3 4.3 0 1 0 -8.6 0M473.41 351.26a4.3 4.3 0 1 0 8.6 0a4.3 4.3 0 1 0 -8.6 0M473.74 363.46a4.3 4.3 0 1 0 8.6 0a4.3 4.3 0 1 0 -8.6 0M474.06 351.59a4.3 4.3 0 1 0 8.6 0a4.3 4.3 0 1 0 -8.6 0M474.38 363.48a4.3 4.3 0 1 0 8.6 0a4.3 4.3 0 1 0 -8.6 0M474.69 351.78a4.3 4.3 0 1 0 8.6 0a4.3 4.3 0 1 0 -8.6 0M475.01 363.5a4.3 4.3 0 1 0 8.6 0a4.3 4.3 0 1 0 -8.6 0M475.32 351.78a4.3 4.3 0 1 0 8.6 0a4.3 4.3 0 1 0 -8.6 0M475.64 363.5a4.3 4.3 0 1 0 8.6 0a4.3 4.3 0 1 0 -8.6 0M475.95 351.63a4.3 4.3 0 1 0 8.6 0a4.3 4.3 0 1 0 -8.6 0M476.26 363.48a4.3 4.3 0 1 0 8.6 0a4.3 4.3 0 1 0 -8.6 0M476.56 351.38a4.3 4.3 0 1 0 8.6 0a4.3 4.3 0 1 0 -8.6 0M476.87 363.4a4.3 4.3 0 1 0 8.6 0a4.3 4.3 0 1 0 -8.6 0M477.18 351.08a4.3 4.3 0 1 0 8.6 0a4.3 4.3 0 1 0 -8.6 0M477.48 363.29a4.3 4.3 0 1 0 8.6 0a4.3 4.3 0 1 0 -8.6 0M477.78 350.78a4.3 4.3 0 1 0 8.6 0a4.3 4.3 0 1 0 -8.6 0M478.08 363.15a4.3 4.3 0 1 0 8.6 0a4.3 4.3 0 1 0 -8.6 0M478.38 350.51a4.3 4.3 0 1 0 8.6 0a4.3 4.3 0 1 0 -8.6 0M478.68 363.01a4.3 4.3 0 1 0 8.6 0a4.3 4.3 0 1 0 -8.6 0M478.97 350.26a4.3 4.3 0 1 0 8.6 0a4.3 4.3 0 1 0 -8.6 0M479.27 362.83a4.3 4.3 0 1 0 8.6 0a4.3 4.3 0 1 0 -8.6 0M479.56 349.98a4.3 4.3 0 1 0 8.6 0a4.3 4.3 0 1 0 -8.6 0M479.85 362.61a4.3 4.3 0 1 0 8.6 0a4.3 4.3 0 1 0 -8.6 0M480.14 349.7a4.3 4.3 0 1 0 8.6 0a4.3 4.3 0 1 0 -8.6 0M480.43 362.33a4.3 4.3 0 1 0 8.6 0a4.3 4.3 0 1 0 -8.6 0M480.72 349.42a4.3 4.3 0 1 0 8.6 0a4.3 4.3 0 1 0 -8.6 0M481 361.99a4.3 4.3 0 1 0 8.6 0a4.3 4.3 0 1 0 -8.6 0M481.29 349.18a4.3 4.3 0 1 0 8.6 0a4.3 4.3 0 1 0 -8.6 0M481.57 361.6a4.3 4.3 0 1 0 8.6 0a4.3 4.3 0 1 0 -8.6 0M481.86 348.98a4.3 4.3 0 1 0 8.6 0a4.3 4.3 0 1 0 -8.6 0M482.14 361.03a4.3 4.3 0 1 0 8.6 0a4.3 4.3 0 1 0 -8.6 0M482.42 348.83a4.3 4.3 0 1 0 8.6 0a4.3 4.3 0 1 0 -8.6 0M482.69 360.16a4.3 4.3 0 1 0 8.6 0a4.3 4.3 0 1 0 -8.6 0M482.97 348.74a4.3 4.3 0 1 0 8.6 0a4.3 4.3 0 1 0 -8.6 0M483.25 359.2a4.3 4.3 0 1 0 8.6 0a4.3 4.3 0 1 0 -8.6 0M483.52 348.66a4.3 4.3 0 1 0 8.6 0a4.3 4.3 0 1 0 -8.6 0M483.79 358.37a4.3 4.3 0 1 0 8.6 0a4.3 4.3 0 1 0 -8.6 0M484.07 348.59a4.3 4.3 0 1 0 8.6 0a4.3 4.3 0 1 0 -8.6 0M484.34 357.62a4.3 4.3 0 1 0 8.6 0a4.3 4.3 0 1 0 -8.6 0M484.61 348.53a4.3 4.3 0 1 0 8.6 0a4.3 4.3 0 1 0 -8.6 0M484.88 356.9a4.3 4.3 0 1 0 8.6 0a4.3 4.3 0 1 0 -8.6 0M485.14 348.48a4.3 4.3 0 1 0 8.6 0a4.3 4.3 0 1 0 -8.6 0M485.41 356.28a4.3 4.3 0 1 0 8.6 0a4.3 4.3 0 1 0 -8.6 0M485.67 348.44a4.3 4.3 0 1 0 8.6 0a4.3 4.3 0 1 0 -8.6 0M485.94 355.79a4.3 4.3 0 1 0 8.6 0a4.3 4.3 0 1 0 -8.6 0M486.2 348.41a4.3 4.3 0 1 0 8.6 0a4.3 4.3 0 1 0 -8.6 0M486.46 355.35a4.3 4.3 0 1 0 8.6 0a4.3 4.3 0 1 0 -8.6 0M486.72 348.4a4.3 4.3 0 1 0 8.6 0a4.3 4.3 0 1 0 -8.6 0M486.98 354.95a4.3 4.3 0 1 0 8.6 0a4.3 4.3 0 1 0 -8.6 0M487.24 348.44a4.3 4.3 0 1 0 8.6 0a4.3 4.3 0 1 0 -8.6 0M487.5 354.6a4.3 4.3 0 1 0 8.6 0a4.3 4.3 0 1 0 -8.6 0M487.75 348.56a4.3 4.3 0 1 0 8.6 0a4.3 4.3 0 1 0 -8.6 0M488.01 354.3a4.3 4.3 0 1 0 8.6 0a4.3 4.3 0 1 0 -8.6 0M488.26 348.76a4.3 4.3 0 1 0 8.6 0a4.3 4.3 0 1 0 -8.6 0M488.51 354.07a4.3 4.3 0 1 0 8.6 0a4.3 4.3 0 1 0 -8.6 0M488.77 348.99a4.3 4.3 0 1 0 8.6 0a4.3 4.3 0 1 0 -8.6 0M489.02 353.89a4.3 4.3 0 1 0 8.6 0a4.3 4.3 0 1 0 -8.6 0M489.27 349.24a4.3 4.3 0 1 0 8.6 0a4.3 4.3 0 1 0 -8.6 0M489.52 353.74a4.3 4.3 0 1 0 8.6 0a4.3 4.3 0 1 0 -8.6 0M489.76 349.5a4.3 4.3 0 1 0 8.6 0a4.3 4.3 0 1 0 -8.6 0M490.01 353.61a4.3 4.3 0 1 0 8.6 0a4.3 4.3 0 1 0 -8.6 0M490.26 349.72a4.3 4.3 0 1 0 8.6 0a4.3 4.3 0 1 0 -8.6 0M490.5 353.5a4.3 4.3 0 1 0 8.6 0a4.3 4.3 0 1 0 -8.6 0M490.74 349.97a4.3 4.3 0 1 0 8.6 0a4.3 4.3 0 1 0 -8.6 0M490.99 353.4a4.3 4.3 0 1 0 8.6 0a4.3 4.3 0 1 0 -8.6 0M491.23 350.24a4.3 4.3 0 1 0 8.6 0a4.3 4.3 0 1 0 -8.6 0M491.47 353.33a4.3 4.3 0 1 0 8.6 0a4.3 4.3 0 1 0 -8.6 0M491.71 350.53a4.3 4.3 0 1 0 8.6 0a4.3 4.3 0 1 0 -8.6 0M491.95 353.27a4.3 4.3 0 1 0 8.6 0a4.3 4.3 0 1 0 -8.6 0M492.19 350.81a4.3 4.3 0 1 0 8.6 0a4.3 4.3 0 1 0 -8.6 0M492.42 353.22a4.3 4.3 0 1 0 8.6 0a4.3 4.3 0 1 0 -8.6 0M492.66 351.06a4.3 4.3 0 1 0 8.6 0a4.3 4.3 0 1 0 -8.6 0M492.89 353.17a4.3 4.3 0 1 0 8.6 0a4.3 4.3 0 1 0 -8.6 0M493.13 351.27a4.3 4.3 0 1 0 8.6 0a4.3 4.3 0 1 0 -8.6 0M493.36 353.12a4.3 4.3 0 1 0 8.6 0a4.3 4.3 0 1 0 -8.6 0M493.59 351.43a4.3 4.3 0 1 0 8.6 0a4.3 4.3 0 1 0 -8.6 0M493.83 353.08a4.3 4.3 0 1 0 8.6 0a4.3 4.3 0 1 0 -8.6 0M494.06 351.54a4.3 4.3 0 1 0 8.6 0a4.3 4.3 0 1 0 -8.6 0M494.29 353.05a4.3 4.3 0 1 0 8.6 0a4.3 4.3 0 1 0 -8.6 0M494.52 351.64a4.3 4.3 0 1 0 8.6 0a4.3 4.3 0 1 0 -8.6 0M494.74 353.02a4.3 4.3 0 1 0 8.6 0a4.3 4.3 0 1 0 -8.6 0M494.97 351.73a4.3 4.3 0 1 0 8.6 0a4.3 4.3 0 1 0 -8.6 0M495.2 353.01a4.3 4.3 0 1 0 8.6 0a4.3 4.3 0 1 0 -8.6 0M495.42 351.81a4.3 4.3 0 1 0 8.6 0a4.3 4.3 0 1 0 -8.6 0M495.65 353a4.3 4.3 0 1 0 8.6 0a4.3 4.3 0 1 0 -8.6 0M495.87 351.88a4.3 4.3 0 1 0 8.6 0a4.3 4.3 0 1 0 -8.6 0M496.09 353a4.3 4.3 0 1 0 8.6 0a4.3 4.3 0 1 0 -8.6 0M496.32 351.95a4.3 4.3 0 1 0 8.6 0a4.3 4.3 0 1 0 -8.6 0M496.54 353.01a4.3 4.3 0 1 0 8.6 0a4.3 4.3 0 1 0 -8.6 0M496.76 352.02a4.3 4.3 0 1 0 8.6 0a4.3 4.3 0 1 0 -8.6 0M496.98 353.03a4.3 4.3 0 1 0 8.6 0a4.3 4.3 0 1 0 -8.6 0M497.2 352.09a4.3 4.3 0 1 0 8.6 0a4.3 4.3 0 1 0 -8.6 0M497.42 353.06a4.3 4.3 0 1 0 8.6 0a4.3 4.3 0 1 0 -8.6 0M497.63 352.17a4.3 4.3 0 1 0 8.6 0a4.3 4.3 0 1 0 -8.6 0M497.85 353.09a4.3 4.3 0 1 0 8.6 0a4.3 4.3 0 1 0 -8.6 0M498.07 352.25a4.3 4.3 0 1 0 8.6 0a4.3 4.3 0 1 0 -8.6 0M498.28 353.12a4.3 4.3 0 1 0 8.6 0a4.3 4.3 0 1 0 -8.6 0M498.5 352.34a4.3 4.3 0 1 0 8.6 0a4.3 4.3 0 1 0 -8.6 0M498.71 353.16a4.3 4.3 0 1 0 8.6 0a4.3 4.3 0 1 0 -8.6 0M498.92 352.43a4.3 4.3 0 1 0 8.6 0a4.3 4.3 0 1 0 -8.6 0M499.14 353.21a4.3 4.3 0 1 0 8.6 0a4.3 4.3 0 1 0 -8.6 0M499.35 352.52a4.3 4.3 0 1 0 8.6 0a4.3 4.3 0 1 0 -8.6 0M499.56 353.25a4.3 4.3 0 1 0 8.6 0a4.3 4.3 0 1 0 -8.6 0M499.77 352.61a4.3 4.3 0 1 0 8.6 0a4.3 4.3 0 1 0 -8.6 0M499.98 353.3a4.3 4.3 0 1 0 8.6 0a4.3 4.3 0 1 0 -8.6 0M500.19 352.7a4.3 4.3 0 1 0 8.6 0a4.3 4.3 0 1 0 -8.6 0M500.39 353.35a4.3 4.3 0 1 0 8.6 0a4.3 4.3 0 1 0 -8.6 0M500.6 352.79a4.3 4.3 0 1 0 8.6 0a4.3 4.3 0 1 0 -8.6 0M500.81 353.39a4.3 4.3 0 1 0 8.6 0a4.3 4.3 0 1 0 -8.6 0M501.01 352.88a4.3 4.3 0 1 0 8.6 0a4.3 4.3 0 1 0 -8.6 0M501.22 353.44a4.3 4.3 0 1 0 8.6 0a4.3 4.3 0 1 0 -8.6 0M501.42 352.97a4.3 4.3 0 1 0 8.6 0a4.3 4.3 0 1 0 -8.6 0M501.63 353.49a4.3 4.3 0 1 0 8.6 0a4.3 4.3 0 1 0 -8.6 0M501.83 353.06a4.3 4.3 0 1 0 8.6 0a4.3 4.3 0 1 0 -8.6 0M502.03 353.54a4.3 4.3 0 1 0 8.6 0a4.3 4.3 0 1 0 -8.6 0M502.23 353.15a4.3 4.3 0 1 0 8.6 0a4.3 4.3 0 1 0 -8.6 0M502.43 353.61a4.3 4.3 0 1 0 8.6 0a4.3 4.3 0 1 0 -8.6 0M502.63 353.25a4.3 4.3 0 1 0 8.6 0a4.3 4.3 0 1 0 -8.6 0M502.83 353.68a4.3 4.3 0 1 0 8.6 0a4.3 4.3 0 1 0 -8.6 0M503.03 353.35a4.3 4.3 0 1 0 8.6 0a4.3 4.3 0 1 0 -8.6 0M503.23 353.77a4.3 4.3 0 1 0 8.6 0a4.3 4.3 0 1 0 -8.6 0M503.43 353.45a4.3 4.3 0 1 0 8.6 0a4.3 4.3 0 1 0 -8.6 0M503.63 353.86a4.3 4.3 0 1 0 8.6 0a4.3 4.3 0 1 0 -8.6 0M503.82 353.56a4.3 4.3 0 1 0 8.6 0a4.3 4.3 0 1 0 -8.6 0M504.02 353.96a4.3 4.3 0 1 0 8.6 0a4.3 4.3 0 1 0 -8.6 0M504.21 353.67a4.3 4.3 0 1 0 8.6 0a4.3 4.3 0 1 0 -8.6 0M504.41 354.07a4.3 4.3 0 1 0 8.6 0a4.3 4.3 0 1 0 -8.6 0M504.6 353.78a4.3 4.3 0 1 0 8.6 0a4.3 4.3 0 1 0 -8.6 0M504.8 354.18a4.3 4.3 0 1 0 8.6 0a4.3 4.3 0 1 0 -8.6 0M504.99 353.9a4.3 4.3 0 1 0 8.6 0a4.3 4.3 0 1 0 -8.6 0M505.18 354.29a4.3 4.3 0 1 0 8.6 0a4.3 4.3 0 1 0 -8.6 0M505.37 354.01a4.3 4.3 0 1 0 8.6 0a4.3 4.3 0 1 0 -8.6 0M505.56 354.4a4.3 4.3 0 1 0 8.6 0a4.3 4.3 0 1 0 -8.6 0M505.75 354.12a4.3 4.3 0 1 0 8.6 0a4.3 4.3 0 1 0 -8.6 0M505.94 354.51a4.3 4.3 0 1 0 8.6 0a4.3 4.3 0 1 0 -8.6 0M506.13 354.22a4.3 4.3 0 1 0 8.6 0a4.3 4.3 0 1 0 -8.6 0M506.32 354.62a4.3 4.3 0 1 0 8.6 0a4.3 4.3 0 1 0 -8.6 0M506.51 354.33a4.3 4.3 0 1 0 8.6 0a4.3 4.3 0 1 0 -8.6 0M506.7 354.73a4.3 4.3 0 1 0 8.6 0a4.3 4.3 0 1 0 -8.6 0M506.88 354.43a4.3 4.3 0 1 0 8.6 0a4.3 4.3 0 1 0 -8.6 0M507.07 354.84a4.3 4.3 0 1 0 8.6 0a4.3 4.3 0 1 0 -8.6 0M507.25 354.52a4.3 4.3 0 1 0 8.6 0a4.3 4.3 0 1 0 -8.6 0M507.44 354.94a4.3 4.3 0 1 0 8.6 0a4.3 4.3 0 1 0 -8.6 0M507.62 354.61a4.3 4.3 0 1 0 8.6 0a4.3 4.3 0 1 0 -8.6 0M507.81 355.03a4.3 4.3 0 1 0 8.6 0a4.3 4.3 0 1 0 -8.6 0M507.99 354.69a4.3 4.3 0 1 0 8.6 0a4.3 4.3 0 1 0 -8.6 0M508.17 355.12a4.3 4.3 0 1 0 8.6 0a4.3 4.3 0 1 0 -8.6 0M508.36 354.76a4.3 4.3 0 1 0 8.6 0a4.3 4.3 0 1 0 -8.6 0M508.54 355.21a4.3 4.3 0 1 0 8.6 0a4.3 4.3 0 1 0 -8.6 0M508.72 354.82a4.3 4.3 0 1 0 8.6 0a4.3 4.3 0 1 0 -8.6 0M508.9 355.28a4.3 4.3 0 1 0 8.6 0a4.3 4.3 0 1 0 -8.6 0M509.08 354.88a4.3 4.3 0 1 0 8.6 0a4.3 4.3 0 1 0 -8.6 0M509.26 355.34a4.3 4.3 0 1 0 8.6 0a4.3 4.3 0 1 0 -8.6 0M509.44 354.93a4.3 4.3 0 1 0 8.6 0a4.3 4.3 0 1 0 -8.6 0M509.62 355.4a4.3 4.3 0 1 0 8.6 0a4.3 4.3 0 1 0 -8.6 0M509.8 354.96a4.3 4.3 0 1 0 8.6 0a4.3 4.3 0 1 0 -8.6 0M509.97 355.44a4.3 4.3 0 1 0 8.6 0a4.3 4.3 0 1 0 -8.6 0M510.15 354.99a4.3 4.3 0 1 0 8.6 0a4.3 4.3 0 1 0 -8.6 0M510.33 355.48a4.3 4.3 0 1 0 8.6 0a4.3 4.3 0 1 0 -8.6 0M510.5 355a4.3 4.3 0 1 0 8.6 0a4.3 4.3 0 1 0 -8.6 0M510.68 355.5a4.3 4.3 0 1 0 8.6 0a4.3 4.3 0 1 0 -8.6 0M510.85 355a4.3 4.3 0 1 0 8.6 0a4.3 4.3 0 1 0 -8.6 0M511.03 355.51a4.3 4.3 0 1 0 8.6 0a4.3 4.3 0 1 0 -8.6 0M511.2 355a4.3 4.3 0 1 0 8.6 0a4.3 4.3 0 1 0 -8.6 0M511.37 355.53a4.3 4.3 0 1 0 8.6 0a4.3 4.3 0 1 0 -8.6 0M511.55 355a4.3 4.3 0 1 0 8.6 0a4.3 4.3 0 1 0 -8.6 0M511.72 355.54a4.3 4.3 0 1 0 8.6 0a4.3 4.3 0 1 0 -8.6 0M511.89 355a4.3 4.3 0 1 0 8.6 0a4.3 4.3 0 1 0 -8.6 0M512.06 355.55a4.3 4.3 0 1 0 8.6 0a4.3 4.3 0 1 0 -8.6 0M512.23 355a4.3 4.3 0 1 0 8.6 0a4.3 4.3 0 1 0 -8.6 0M512.41 355.57a4.3 4.3 0 1 0 8.6 0a4.3 4.3 0 1 0 -8.6 0M512.58 355a4.3 4.3 0 1 0 8.6 0a4.3 4.3 0 1 0 -8.6 0M512.75 355.58a4.3 4.3 0 1 0 8.6 0a4.3 4.3 0 1 0 -8.6 0M512.91 355a4.3 4.3 0 1 0 8.6 0a4.3 4.3 0 1 0 -8.6 0M513.08 355.59a4.3 4.3 0 1 0 8.6 0a4.3 4.3 0 1 0 -8.6 0M513.25 355a4.3 4.3 0 1 0 8.6 0a4.3 4.3 0 1 0 -8.6 0M513.42 355.6a4.3 4.3 0 1 0 8.6 0a4.3 4.3 0 1 0 -8.6 0M513.59 355a4.3 4.3 0 1 0 8.6 0a4.3 4.3 0 1 0 -8.6 0M513.75 355.61a4.3 4.3 0 1 0 8.6 0a4.3 4.3 0 1 0 -8.6 0M513.92 355a4.3 4.3 0 1 0 8.6 0a4.3 4.3 0 1 0 -8.6 0M514.09 355.63a4.3 4.3 0 1 0 8.6 0a4.3 4.3 0 1 0 -8.6 0M514.25 355a4.3 4.3 0 1 0 8.6 0a4.3 4.3 0 1 0 -8.6 0M514.42 355.64a4.3 4.3 0 1 0 8.6 0a4.3 4.3 0 1 0 -8.6 0M514.58 355a4.3 4.3 0 1 0 8.6 0a4.3 4.3 0 1 0 -8.6 0M514.74 355.65a4.3 4.3 0 1 0 8.6 0a4.3 4.3 0 1 0 -8.6 0M514.91 355a4.3 4.3 0 1 0 8.6 0a4.3 4.3 0 1 0 -8.6 0M515.07 355.66a4.3 4.3 0 1 0 8.6 0a4.3 4.3 0 1 0 -8.6 0M515.23 355a4.3 4.3 0 1 0 8.6 0a4.3 4.3 0 1 0 -8.6 0M515.4 355.67a4.3 4.3 0 1 0 8.6 0a4.3 4.3 0 1 0 -8.6 0M515.56 355a4.3 4.3 0 1 0 8.6 0a4.3 4.3 0 1 0 -8.6 0M515.72 355.68a4.3 4.3 0 1 0 8.6 0a4.3 4.3 0 1 0 -8.6 0M515.88 355a4.3 4.3 0 1 0 8.6 0a4.3 4.3 0 1 0 -8.6 0M516.04 355.69a4.3 4.3 0 1 0 8.6 0a4.3 4.3 0 1 0 -8.6 0M516.2 355a4.3 4.3 0 1 0 8.6 0a4.3 4.3 0 1 0 -8.6 0M516.36 355.7a4.3 4.3 0 1 0 8.6 0a4.3 4.3 0 1 0 -8.6 0M516.52 355a4.3 4.3 0 1 0 8.6 0a4.3 4.3 0 1 0 -8.6 0M516.68 355.71a4.3 4.3 0 1 0 8.6 0a4.3 4.3 0 1 0 -8.6 0M516.84 355a4.3 4.3 0 1 0 8.6 0a4.3 4.3 0 1 0 -8.6 0M517 355.72a4.3 4.3 0 1 0 8.6 0a4.3 4.3 0 1 0 -8.6 0M517.15 355a4.3 4.3 0 1 0 8.6 0a4.3 4.3 0 1 0 -8.6 0M517.31 355.73a4.3 4.3 0 1 0 8.6 0a4.3 4.3 0 1 0 -8.6 0M517.47 355a4.3 4.3 0 1 0 8.6 0a4.3 4.3 0 1 0 -8.6 0M517.62 355.73a4.3 4.3 0 1 0 8.6 0a4.3 4.3 0 1 0 -8.6 0M517.78 355a4.3 4.3 0 1 0 8.6 0a4.3 4.3 0 1 0 -8.6 0M517.94 355.74a4.3 4.3 0 1 0 8.6 0a4.3 4.3 0 1 0 -8.6 0M518.09 355a4.3 4.3 0 1 0 8.6 0a4.3 4.3 0 1 0 -8.6 0M518.25 355.75a4.3 4.3 0 1 0 8.6 0a4.3 4.3 0 1 0 -8.6 0M518.4 355a4.3 4.3 0 1 0 8.6 0a4.3 4.3 0 1 0 -8.6 0M518.56 355.76a4.3 4.3 0 1 0 8.6 0a4.3 4.3 0 1 0 -8.6 0M518.71 355a4.3 4.3 0 1 0 8.6 0a4.3 4.3 0 1 0 -8.6 0M518.86 355.77a4.3 4.3 0 1 0 8.6 0a4.3 4.3 0 1 0 -8.6 0M519.02 355a4.3 4.3 0 1 0 8.6 0a4.3 4.3 0 1 0 -8.6 0M519.17 355.78a4.3 4.3 0 1 0 8.6 0a4.3 4.3 0 1 0 -8.6 0M519.32 355a4.3 4.3 0 1 0 8.6 0a4.3 4.3 0 1 0 -8.6 0M519.47 355.78a4.3 4.3 0 1 0 8.6 0a4.3 4.3 0 1 0 -8.6 0M519.62 355a4.3 4.3 0 1 0 8.6 0a4.3 4.3 0 1 0 -8.6 0M519.77 355.79a4.3 4.3 0 1 0 8.6 0a4.3 4.3 0 1 0 -8.6 0M519.93 355a4.3 4.3 0 1 0 8.6 0a4.3 4.3 0 1 0 -8.6 0M520.08 355.8a4.3 4.3 0 1 0 8.6 0a4.3 4.3 0 1 0 -8.6 0M520.23 355a4.3 4.3 0 1 0 8.6 0a4.3 4.3 0 1 0 -8.6 0M520.38 355.81a4.3 4.3 0 1 0 8.6 0a4.3 4.3 0 1 0 -8.6 0M520.52 355a4.3 4.3 0 1 0 8.6 0a4.3 4.3 0 1 0 -8.6 0M520.67 355.81a4.3 4.3 0 1 0 8.6 0a4.3 4.3 0 1 0 -8.6 0M520.82 355a4.3 4.3 0 1 0 8.6 0a4.3 4.3 0 1 0 -8.6 0M520.97 355.82a4.3 4.3 0 1 0 8.6 0a4.3 4.3 0 1 0 -8.6 0M521.12 355a4.3 4.3 0 1 0 8.6 0a4.3 4.3 0 1 0 -8.6 0M521.26 355.83a4.3 4.3 0 1 0 8.6 0a4.3 4.3 0 1 0 -8.6 0M521.41 355a4.3 4.3 0 1 0 8.6 0a4.3 4.3 0 1 0 -8.6 0M521.56 355.83a4.3 4.3 0 1 0 8.6 0a4.3 4.3 0 1 0 -8.6 0M521.7 355a4.3 4.3 0 1 0 8.6 0a4.3 4.3 0 1 0 -8.6 0M521.85 355.84a4.3 4.3 0 1 0 8.6 0a4.3 4.3 0 1 0 -8.6 0M522 355a4.3 4.3 0 1 0 8.6 0a4.3 4.3 0 1 0 -8.6 0M522.14 355.85a4.3 4.3 0 1 0 8.6 0a4.3 4.3 0 1 0 -8.6 0M522.29 355a4.3 4.3 0 1 0 8.6 0a4.3 4.3 0 1 0 -8.6 0M522.43 355.85a4.3 4.3 0 1 0 8.6 0a4.3 4.3 0 1 0 -8.6 0M522.58 355a4.3 4.3 0 1 0 8.6 0a4.3 4.3 0 1 0 -8.6 0M522.72 355.86a4.3 4.3 0 1 0 8.6 0a4.3 4.3 0 1 0 -8.6 0M522.86 355a4.3 4.3 0 1 0 8.6 0a4.3 4.3 0 1 0 -8.6 0M523.01 355.86a4.3 4.3 0 1 0 8.6 0a4.3 4.3 0 1 0 -8.6 0M523.15 355a4.3 4.3 0 1 0 8.6 0a4.3 4.3 0 1 0 -8.6 0M523.29 355.87a4.3 4.3 0 1 0 8.6 0a4.3 4.3 0 1 0 -8.6 0M523.43 355a4.3 4.3 0 1 0 8.6 0a4.3 4.3 0 1 0 -8.6 0M523.58 355.87a4.3 4.3 0 1 0 8.6 0a4.3 4.3 0 1 0 -8.6 0M523.72 355a4.3 4.3 0 1 0 8.6 0a4.3 4.3 0 1 0 -8.6 0M523.86 355.88a4.3 4.3 0 1 0 8.6 0a4.3 4.3 0 1 0 -8.6 0M524 355a4.3 4.3 0 1 0 8.6 0a4.3 4.3 0 1 0 -8.6 0M524.14 355.88a4.3 4.3 0 1 0 8.6 0a4.3 4.3 0 1 0 -8.6 0M524.28 355a4.3 4.3 0 1 0 8.6 0a4.3 4.3 0 1 0 -8.6 0M524.42 355.89a4.3 4.3 0 1 0 8.6 0a4.3 4.3 0 1 0 -8.6 0M524.56 355a4.3 4.3 0 1 0 8.6 0a4.3 4.3 0 1 0 -8.6 0M524.7 355.89a4.3 4.3 0 1 0 8.6 0a4.3 4.3 0 1 0 -8.6 0M524.84 355a4.3 4.3 0 1 0 8.6 0a4.3 4.3 0 1 0 -8.6 0M524.98 355.9a4.3 4.3 0 1 0 8.6 0a4.3 4.3 0 1 0 -8.6 0M525.12 355a4.3 4.3 0 1 0 8.6 0a4.3 4.3 0 1 0 -8.6 0M525.25 355.9a4.3 4.3 0 1 0 8.6 0a4.3 4.3 0 1 0 -8.6 0M525.39 355a4.3 4.3 0 1 0 8.6 0a4.3 4.3 0 1 0 -8.6 0M525.53 355.91a4.3 4.3 0 1 0 8.6 0a4.3 4.3 0 1 0 -8.6 0M525.67 355a4.3 4.3 0 1 0 8.6 0a4.3 4.3 0 1 0 -8.6 0M525.8 355.91a4.3 4.3 0 1 0 8.6 0a4.3 4.3 0 1 0 -8.6 0M525.94 355a4.3 4.3 0 1 0 8.6 0a4.3 4.3 0 1 0 -8.6 0M526.07 355.92a4.3 4.3 0 1 0 8.6 0a4.3 4.3 0 1 0 -8.6 0M526.21 355a4.3 4.3 0 1 0 8.6 0a4.3 4.3 0 1 0 -8.6 0M526.35 355.92a4.3 4.3 0 1 0 8.6 0a4.3 4.3 0 1 0 -8.6 0M526.48 355a4.3 4.3 0 1 0 8.6 0a4.3 4.3 0 1 0 -8.6 0M526.62 355.92a4.3 4.3 0 1 0 8.6 0a4.3 4.3 0 1 0 -8.6 0M526.75 355a4.3 4.3 0 1 0 8.6 0a4.3 4.3 0 1 0 -8.6 0M526.89 355.93a4.3 4.3 0 1 0 8.6 0a4.3 4.3 0 1 0 -8.6 0M527.02 355a4.3 4.3 0 1 0 8.6 0a4.3 4.3 0 1 0 -8.6 0M527.15 355.93a4.3 4.3 0 1 0 8.6 0a4.3 4.3 0 1 0 -8.6 0M527.29 355a4.3 4.3 0 1 0 8.6 0a4.3 4.3 0 1 0 -8.6 0M527.42 355.93a4.3 4.3 0 1 0 8.6 0a4.3 4.3 0 1 0 -8.6 0M527.55 355a4.3 4.3 0 1 0 8.6 0a4.3 4.3 0 1 0 -8.6 0M527.69 355.94a4.3 4.3 0 1 0 8.6 0a4.3 4.3 0 1 0 -8.6 0M527.82 355a4.3 4.3 0 1 0 8.6 0a4.3 4.3 0 1 0 -8.6 0M527.95 355.94a4.3 4.3 0 1 0 8.6 0a4.3 4.3 0 1 0 -8.6 0M528.08 355a4.3 4.3 0 1 0 8.6 0a4.3 4.3 0 1 0 -8.6 0M528.21 355.94a4.3 4.3 0 1 0 8.6 0a4.3 4.3 0 1 0 -8.6 0M528.34 355a4.3 4.3 0 1 0 8.6 0a4.3 4.3 0 1 0 -8.6 0M528.48 355.95a4.3 4.3 0 1 0 8.6 0a4.3 4.3 0 1 0 -8.6 0M528.61 355a4.3 4.3 0 1 0 8.6 0a4.3 4.3 0 1 0 -8.6 0M528.74 355.95a4.3 4.3 0 1 0 8.6 0a4.3 4.3 0 1 0 -8.6 0M528.87 355a4.3 4.3 0 1 0 8.6 0a4.3 4.3 0 1 0 -8.6 0M529 355.95a4.3 4.3 0 1 0 8.6 0a4.3 4.3 0 1 0 -8.6 0M529.13 355a4.3 4.3 0 1 0 8.6 0a4.3 4.3 0 1 0 -8.6 0M529.25 355.96a4.3 4.3 0 1 0 8.6 0a4.3 4.3 0 1 0 -8.6 0M529.38 355a4.3 4.3 0 1 0 8.6 0a4.3 4.3 0 1 0 -8.6 0M529.51 355.96a4.3 4.3 0 1 0 8.6 0a4.3 4.3 0 1 0 -8.6 0M529.64 355a4.3 4.3 0 1 0 8.6 0a4.3 4.3 0 1 0 -8.6 0M529.77 355.96a4.3 4.3 0 1 0 8.6 0a4.3 4.3 0 1 0 -8.6 0M529.9 355a4.3 4.3 0 1 0 8.6 0a4.3 4.3 0 1 0 -8.6 0M530.02 355.96a4.3 4.3 0 1 0 8.6 0a4.3 4.3 0 1 0 -8.6 0M530.15 355a4.3 4.3 0 1 0 8.6 0a4.3 4.3 0 1 0 -8.6 0M530.28 355.97a4.3 4.3 0 1 0 8.6 0a4.3 4.3 0 1 0 -8.6 0M530.41 355a4.3 4.3 0 1 0 8.6 0a4.3 4.3 0 1 0 -8.6 0M530.53 355.97a4.3 4.3 0 1 0 8.6 0a4.3 4.3 0 1 0 -8.6 0M530.66 355a4.3 4.3 0 1 0 8.6 0a4.3 4.3 0 1 0 -8.6 0M530.78 355.97a4.3 4.3 0 1 0 8.6 0a4.3 4.3 0 1 0 -8.6 0M530.91 355a4.3 4.3 0 1 0 8.6 0a4.3 4.3 0 1 0 -8.6 0M531.04 355.97a4.3 4.3 0 1 0 8.6 0a4.3 4.3 0 1 0 -8.6 0M531.16 355a4.3 4.3 0 1 0 8.6 0a4.3 4.3 0 1 0 -8.6 0M531.29 355.98a4.3 4.3 0 1 0 8.6 0a4.3 4.3 0 1 0 -8.6 0M531.41 355a4.3 4.3 0 1 0 8.6 0a4.3 4.3 0 1 0 -8.6 0M531.54 355.98a4.3 4.3 0 1 0 8.6 0a4.3 4.3 0 1 0 -8.6 0M531.66 355a4.3 4.3 0 1 0 8.6 0a4.3 4.3 0 1 0 -8.6 0M531.78 355.98a4.3 4.3 0 1 0 8.6 0a4.3 4.3 0 1 0 -8.6 0M531.91 355a4.3 4.3 0 1 0 8.6 0a4.3 4.3 0 1 0 -8.6 0M532.03 355.98a4.3 4.3 0 1 0 8.6 0a4.3 4.3 0 1 0 -8.6 0M532.15 355a4.3 4.3 0 1 0 8.6 0a4.3 4.3 0 1 0 -8.6 0M532.28 355.98a4.3 4.3 0 1 0 8.6 0a4.3 4.3 0 1 0 -8.6 0M532.4 355a4.3 4.3 0 1 0 8.6 0a4.3 4.3 0 1 0 -8.6 0M532.52 355.98a4.3 4.3 0 1 0 8.6 0a4.3 4.3 0 1 0 -8.6 0M532.64 355a4.3 4.3 0 1 0 8.6 0a4.3 4.3 0 1 0 -8.6 0M532.77 355.99a4.3 4.3 0 1 0 8.6 0a4.3 4.3 0 1 0 -8.6 0M532.89 355a4.3 4.3 0 1 0 8.6 0a4.3 4.3 0 1 0 -8.6 0M533.01 355.99a4.3 4.3 0 1 0 8.6 0a4.3 4.3 0 1 0 -8.6 0M533.13 355a4.3 4.3 0 1 0 8.6 0a4.3 4.3 0 1 0 -8.6 0M533.25 355.99a4.3 4.3 0 1 0 8.6 0a4.3 4.3 0 1 0 -8.6 0M533.37 355a4.3 4.3 0 1 0 8.6 0a4.3 4.3 0 1 0 -8.6 0M533.49 355.99a4.3 4.3 0 1 0 8.6 0a4.3 4.3 0 1 0 -8.6 0M533.61 355a4.3 4.3 0 1 0 8.6 0a4.3 4.3 0 1 0 -8.6 0M533.73 355.99a4.3 4.3 0 1 0 8.6 0a4.3 4.3 0 1 0 -8.6 0M533.85 355a4.3 4.3 0 1 0 8.6 0a4.3 4.3 0 1 0 -8.6 0M533.97 355.99a4.3 4.3 0 1 0 8.6 0a4.3 4.3 0 1 0 -8.6 0M534.09 355a4.3 4.3 0 1 0 8.6 0a4.3 4.3 0 1 0 -8.6 0M534.21 355.99a4.3 4.3 0 1 0 8.6 0a4.3 4.3 0 1 0 -8.6 0M534.33 355a4.3 4.3 0 1 0 8.6 0a4.3 4.3 0 1 0 -8.6 0M534.45 355.99a4.3 4.3 0 1 0 8.6 0a4.3 4.3 0 1 0 -8.6 0M534.57 355a4.3 4.3 0 1 0 8.6 0a4.3 4.3 0 1 0 -8.6 0M534.68 355.99a4.3 4.3 0 1 0 8.6 0a4.3 4.3 0 1 0 -8.6 0M534.8 355a4.3 4.3 0 1 0 8.6 0a4.3 4.3 0 1 0 -8.6 0M534.92 356a4.3 4.3 0 1 0 8.6 0a4.3 4.3 0 1 0 -8.6 0M535.04 355a4.3 4.3 0 1 0 8.6 0a4.3 4.3 0 1 0 -8.6 0M535.16 356a4.3 4.3 0 1 0 8.6 0a4.3 4.3 0 1 0 -8.6 0M535.27 355a4.3 4.3 0 1 0 8.6 0a4.3 4.3 0 1 0 -8.6 0M535.39 356a4.3 4.3 0 1 0 8.6 0a4.3 4.3 0 1 0 -8.6 0M535.51 355a4.3 4.3 0 1 0 8.6 0a4.3 4.3 0 1 0 -8.6 0M535.62 356a4.3 4.3 0 1 0 8.6 0a4.3 4.3 0 1 0 -8.6 0M535.74 355a4.3 4.3 0 1 0 8.6 0a4.3 4.3 0 1 0 -8.6 0M535.85 356a4.3 4.3 0 1 0 8.6 0a4.3 4.3 0 1 0 -8.6 0M535.97 355a4.3 4.3 0 1 0 8.6 0a4.3 4.3 0 1 0 -8.6 0M536.09 356a4.3 4.3 0 1 0 8.6 0a4.3 4.3 0 1 0 -8.6 0M536.2 355a4.3 4.3 0 1 0 8.6 0a4.3 4.3 0 1 0 -8.6 0M536.32 356a4.3 4.3 0 1 0 8.6 0a4.3 4.3 0 1 0 -8.6 0M536.43 355a4.3 4.3 0 1 0 8.6 0a4.3 4.3 0 1 0 -8.6 0M536.55 356a4.3 4.3 0 1 0 8.6 0a4.3 4.3 0 1 0 -8.6 0M536.66 355a4.3 4.3 0 1 0 8.6 0a4.3 4.3 0 1 0 -8.6 0M536.77 356a4.3 4.3 0 1 0 8.6 0a4.3 4.3 0 1 0 -8.6 0M536.89 355a4.3 4.3 0 1 0 8.6 0a4.3 4.3 0 1 0 -8.6 0M537 356a4.3 4.3 0 1 0 8.6 0a4.3 4.3 0 1 0 -8.6 0M537.11 355a4.3 4.3 0 1 0 8.6 0a4.3 4.3 0 1 0 -8.6 0M537.23 356a4.3 4.3 0 1 0 8.6 0a4.3 4.3 0 1 0 -8.6 0M537.34 355a4.3 4.3 0 1 0 8.6 0a4.3 4.3 0 1 0 -8.6 0M537.45 356a4.3 4.3 0 1 0 8.6 0a4.3 4.3 0 1 0 -8.6 0M537.57 355a4.3 4.3 0 1 0 8.6 0a4.3 4.3 0 1 0 -8.6 0" fill="none" stroke="#D95319" stroke-width="2.5"/>
<polyline clip-path="url(#ax)" points="159.33,382.59 201.48,362.72 226.13,342.93 243.62,324.43 257.19,307.24 268.27,291.2 277.65,276.16 285.76,261.98 292.93,248.61 299.33,236.11 305.13,224.54 310.42,213.87 315.28,204.05 319.79,195.03 323.98,186.75 327.91,179.15 331.59,172.17 335.07,165.76 338.36,159.87 341.48,154.47 344.44,149.51 347.27,144.99 349.97,140.91 352.56,137.29 355.04,134.11 357.43,131.38 359.72,129.08 361.93,127.21 364.07,125.74 366.13,124.67 368.12,123.98 370.05,123.65 371.92,123.66 373.74,123.99 375.5,124.61 377.21,125.51 378.88,126.67 380.5,128.07 382.08,129.7 383.62,131.55 385.12,133.6 386.59,135.85 388.02,138.27 389.42,140.87 390.78,143.63 392.12,146.54 393.43,149.59 394.71,152.75 395.96,156.01 397.19,159.36 398.39,162.78 399.57,166.27 400.73,169.81 401.87,173.39 402.98,177 404.08,180.65 405.15,184.31 406.21,187.99 407.25,191.68 408.27,195.37 409.28,199.06 410.27,202.75 411.24,206.42 412.2,210.08 413.14,213.73 414.07,217.35 414.98,220.96 415.88,224.54 416.77,228.08 417.65,231.6 418.51,235.07 419.36,238.51 420.2,241.9 421.02,245.25 421.84,248.55 422.65,251.8 423.44,255.01 424.23,258.16 425,261.25 425.76,264.3 426.52,267.29 427.27,270.22 428,273.1 428.73,275.91 429.45,278.67 430.16,281.37 430.86,284.02 431.56,286.6 432.25,289.12 432.93,291.58 433.6,293.99 434.26,296.33 434.92,298.61 435.57,300.84 436.21,303 436.85,305.1 437.48,307.15 438.1,309.13 438.72,311.05 439.33,312.92 439.94,314.73 440.54,316.48 441.13,318.18 441.72,319.83 442.3,321.42 442.87,322.96 443.45,324.45 444.01,325.89 444.57,327.28 445.13,328.62 445.68,329.91 446.22,331.16 446.76,332.36 447.3,333.52 447.83,334.64 448.36,335.71 448.88,336.74 449.4,337.72 449.91,338.67 450.42,339.58 450.92,340.44 451.42,341.27 451.92,342.06 452.41,342.81 452.9,343.53 453.38,344.21 453.86,344.85 454.34,345.46 454.81,346.03 455.28,346.57 455.75,347.08 456.21,347.55 456.67,348 457.13,348.41 457.58,348.78 458.03,349.13 458.47,349.45 458.91,349.74 459.35,350 459.79,350.23 460.22,350.43 460.65,350.6 461.08,350.75 461.5,350.87 461.92,350.96 462.34,350.27 462.76,350.55 463.17,350.21 463.58,350.81 463.98,350.15 464.39,351.05 464.79,350.09 465.19,351.28 465.58,350.03 465.98,351.49 466.37,349.97 466.76,351.69 467.14,349.9 467.53,351.86 467.91,349.82 468.29,352.03 468.66,349.76 469.04,352.21 469.41,349.71 469.78,352.35 470.15,349.7 470.51,352.46 470.88,349.73 471.24,352.59 471.59,349.81 471.95,352.76 472.31,349.91 472.66,353.03 473.01,350.04 473.36,354.07 473.7,350.19 474.05,357.51 474.39,350.35 474.73,359.86 475.07,350.52 475.41,361.34 475.74,350.79 476.08,361.54 476.41,351.18 476.74,361.63 477.06,351.62 477.39,361.7 477.71,352.04 478.04,361.81 478.36,352.38 478.68,362.05 478.99,352.57 479.31,362.38 479.62,352.58 479.94,362.67 480.25,352.46 480.56,362.8 480.86,352.26 481.17,362.8 481.48,352.02 481.78,362.8 482.08,351.76 482.38,362.8 482.68,351.53 482.98,362.8 483.27,351.35 483.57,362.8 483.86,351.23 484.15,362.8 484.44,351.12 484.73,362.8 485.02,351.01 485.3,362.8 485.59,350.9 485.87,362.75 486.16,350.8 486.44,362 486.72,350.72 486.99,360.88 487.27,350.64 487.55,359.84 487.82,350.58 488.09,358.67 488.37,350.54 488.64,357.57 488.91,350.51 489.18,356.77 489.44,350.5 489.71,356.12 489.97,350.51 490.24,355.54 490.5,350.54 490.76,355.03 491.02,350.58 491.28,354.61 491.54,350.63 491.8,354.3 492.05,350.69 492.31,354.07 492.56,350.75 492.81,353.88 493.07,350.82 493.32,353.72 493.57,350.9 493.82,353.58 494.06,350.99 494.31,353.46 494.56,351.11 494.8,353.37 495.04,351.27 495.29,353.3 495.53,351.43 495.77,353.25 496.01,351.61 496.25,353.2 496.49,351.79 496.72,353.15 496.96,351.95 497.19,353.11 497.43,352.1 497.66,353.07 497.89,352.22 498.13,353.04 498.36,352.33 498.59,353.02 498.82,352.43 499.04,353 499.27,352.53 499.5,353 499.72,352.62 499.95,353.01 500.17,352.7 500.39,353.02 500.62,352.79 500.84,353.05 501.06,352.87 501.28,353.09 501.5,352.95 501.72,353.13 501.93,353.03 502.15,353.18 502.37,353.11 502.58,353.23 502.8,353.19 503.01,353.29 503.22,353.28 503.44,353.35 503.65,353.37 503.86,353.41 504.07,353.46 504.28,353.49 504.49,353.57 504.69,353.6 504.9,353.69 505.11,353.73 505.31,353.81 505.52,353.88 505.72,353.94 505.93,354.05 506.13,354.07 506.33,354.22 506.53,354.2 506.73,354.4 506.93,354.33 507.13,354.58 507.33,354.45 507.53,354.75 507.73,354.56 507.93,354.92 508.12,354.66 508.32,355.07 508.51,354.74 508.71,355.21 508.9,354.81 509.1,355.32 509.29,354.86 509.48,355.42 509.67,354.89 509.86,355.48 510.05,354.9 510.24,355.53 510.43,354.9 510.62,355.57 510.81,354.9 511,355.6 511.18,354.9 511.37,355.64 511.55,354.9 511.74,355.68 511.92,354.9 512.11,355.71 512.29,354.9 512.47,355.74 512.66,354.9 512.84,355.77 513.02,354.9 513.2,355.8 513.38,354.9 513.56,355.83 513.74,354.9 513.92,355.86 514.1,354.9 514.27,355.89 514.45,354.9 514.63,355.91 514.8,354.9 514.98,355.93 515.15,354.9 515.33,355.95 515.5,354.9 515.67,355.97 515.85,354.9 516.02,355.99 516.19,354.9 516.36,356.01 516.53,354.9 516.71,356.03 516.88,354.9 517.05,356.04 517.21,354.9 517.38,356.05 517.55,354.9 517.72,356.06 517.89,354.9 518.05,356.07 518.22,354.9 518.39,356.08 518.55,354.9 518.72,356.09 518.88,354.9 519.04,356.09 519.21,354.9 519.37,356.1 519.53,354.9 519.7,356.1 519.86,354.9 520.02,356.1 520.18,354.9 520.34,356.1 520.5,354.9 520.66,356.1 520.82,354.9 520.98,356.1 521.14,354.9 521.3,356.1 521.45,354.91 521.61,356.1 521.77,354.91 521.92,356.1 522.08,354.91 522.24,356.1 522.39,354.91 522.55,356.1 522.7,354.92 522.86,356.1 523.01,354.92 523.16,356.1 523.32,354.93 523.47,356.1 523.62,354.93 523.77,356.1 523.92,354.93 524.07,356.1 524.23,354.94 524.38,356.1 524.53,354.94 524.68,356.1 524.82,354.95 524.97,356.1 525.12,354.95 525.27,356.1 525.42,354.96 525.56,356.1 525.71,354.96 525.86,356.1 526,354.96 526.15,356.1 526.3,354.97 526.44,356.1 526.59,354.97 526.73,356.1 526.88,354.98 527.02,356.1 527.16,354.98 527.31,356.1 527.45,354.98 527.59,356.1 527.73,354.99 527.88,356.1 528.02,354.99 528.16,356.1 528.3,354.99 528.44,356.1 528.58,354.99 528.72,356.1 528.86,355 529,356.1 529.14,355 529.28,356.1 529.42,355 529.55,356.1 529.69,355 529.83,356.1 529.97,355 530.1,356.1 530.24,355 530.37,356.1 530.51,355 530.65,356.1 530.78,355 530.92,356.1 531.05,355 531.19,356.1 531.32,355 531.45,356.1 531.59,355 531.72,356.1 531.85,355 531.99,356.1 532.12,355 532.25,356.1 532.38,355 532.51,356.1 532.64,355 532.78,356.1 532.91,354.99 533.04,356.1 533.17,354.99 533.3,356.1 533.43,354.99 533.55,356.1 533.68,354.99 533.81,356.1 533.94,354.99 534.07,356.1 534.2,354.99 534.32,356.1 534.45,354.99 534.58,356.1 534.71,354.99 534.83,356.1 534.96,354.98 535.08,356.1 535.21,354.98 535.34,356.1 535.46,354.98 535.59,356.1 535.71,354.98 535.84,356.1 535.96,354.98 536.08,356.1 536.21,354.98 536.33,356.1 536.45,354.97 536.58,356.1 536.7,354.97 536.82,356.1 536.94,354.97 537.07,356.1 537.19,354.97 537.31,356.1 537.43,354.96 537.55,356.1 537.67,354.96 537.79,356.1 537.91,354.96 538.03,356.1 538.15,354.96 538.27,356.1 538.39,354.95 538.51,356.1 538.63,354.95 538.75,356.1 538.87,354.95 538.98,356.1 539.1,354.94 539.22,356.1 539.34,354.94 539.46,356.1 539.57,354.94 539.69,356.1 539.81,354.93 539.92,356.1 540.04,354.93 540.15,356.1 540.27,354.93 540.39,356.1 540.5,354.92 540.62,356.1 540.73,354.92 540.85,356.1 540.96,354.92 541.07,356.1 541.19,354.91 541.3,356.1 541.41,354.91 541.53,356.1 541.64,354.9 541.75,356.1 541.87,354.9" fill="none" stroke="#0072BD" stroke-width="2.2" stroke-linejoin="round"/>
<path d="M155.03 382.59a4.3 4.3 0 1 0 8.6 0a4.3 4.3 0 1 0 -8.6 0M197.18 362.72a4.3 4.3 0 1 0 8.6 0a4.3 4.3 0 1 0 -8.6 0M221.83 342.93a4.3 4.3 0 1 0 8.6 0a4.3 4.3 0 1 0 -8.6 0M239.32 324.43a4.3 4.3 0 1 0 8.6 0a4.3 4.3 0 1 0 -8.6 0M252.89 307.24a4.3 4.3 0 1 0 8.6 0a4.3 4.3 0 1 0 -8.6 0M263.97 291.2a4.3 4.3 0 1 0 8.6 0a4.3 4.3 0 1 0 -8.6 0M273.35 276.16a4.3 4.3 0 1 0 8.6 0a4.3 4.3 0 1 0 -8.6 0M281.46 261.98a4.3 4.3 0 1 0 8.6 0a4.3 4.3 0 1 0 -8.6 0M288.63 248.61a4.3 4.3 0 1 0 8.6 0a4.3 4.3 0 1 0 -8.6 0M295.03 236.11a4.3 4.3 0 1 0 8.6 0a4.3 4.3 0 1 0 -8.6 0M300.83 224.54a4.3 4.3 0 1 0 8.6 0a4.3 4.3 0 1 0 -8.6 0M306.12 213.87a4.3 4.3 0 1 0 8.6 0a4.3 4.3 0 1 0 -8.6 0M310.98 204.05a4.3 4.3 0 1 0 8.6 0a4.3 4.3 0 1 0 -8.6 0M315.49 195.03a4.3 4.3 0 1 0 8.6 0a4.3 4.3 0 1 0 -8.6 0M319.68 186.75a4.3 4.3 0 1 0 8.6 0a4.3 4.3 0 1 0 -8.6 0M323.61 179.15a4.3 4.3 0 1 0 8.6 0a4.3 4.3 0 1 0 -8.6 0M327.29 172.17a4.3 4.3 0 1 0 8.6 0a4.3 4.3 0 1 0 -8.6 0M330.77 165.76a4.3 4.3 0 1 0 8.6 0a4.3 4.3 0 1 0 -8.6 0M334.06 159.87a4.3 4.3 0 1 0 8.6 0a4.3 4.3 0 1 0 -8.6 0M337.18 154.47a4.3 4.3 0 1 0 8.6 0a4.3 4.3 0 1 0 -8.6 0M340.14 149.51a4.3 4.3 0 1 0 8.6 0a4.3 4.3 0 1 0 -8.6 0M342.97 144.99a4.3 4.3 0 1 0 8.6 0a4.3 4.3 0 1 0 -8.6 0M345.67 140.91a4.3 4.3 0 1 0 8.6 0a4.3 4.3 0 1 0 -8.6 0M348.26 137.29a4.3 4.3 0 1 0 8.6 0a4.3 4.3 0 1 0 -8.6 0M350.74 134.11a4.3 4.3 0 1 0 8.6 0a4.3 4.3 0 1 0 -8.6 0M353.13 131.38a4.3 4.3 0 1 0 8.6 0a4.3 4.3 0 1 0 -8.6 0M355.42 129.08a4.3 4.3 0 1 0 8.6 0a4.3 4.3 0 1 0 -8.6 0M357.63 127.21a4.3 4.3 0 1 0 8.6 0a4.3 4.3 0 1 0 -8.6 0M359.77 125.74a4.3 4.3 0 1 0 8.6 0a4.3 4.3 0 1 0 -8.6 0M361.83 124.67a4.3 4.3 0 1 0 8.6 0a4.3 4.3 0 1 0 -8.6 0M363.82 123.98a4.3 4.3 0 1 0 8.6 0a4.3 4.3 0 1 0 -8.6 0M365.75 123.65a4.3 4.3 0 1 0 8.6 0a4.3 4.3 0 1 0 -8.6 0M367.62 123.66a4.3 4.3 0 1 0 8.6 0a4.3 4.3 0 1 0 -8.6 0M369.44 123.99a4.3 4.3 0 1 0 8.6 0a4.3 4.3 0 1 0 -8.6 0M371.2 124.61a4.3 4.3 0 1 0 8.6 0a4.3 4.3 0 1 0 -8.6 0M372.91 125.51a4.3 4.3 0 1 0 8.6 0a4.3 4.3 0 1 0 -8.6 0M374.58 126.67a4.3 4.3 0 1 0 8.6 0a4.3 4.3 0 1 0 -8.6 0M376.2 128.07a4.3 4.3 0 1 0 8.6 0a4.3 4.3 0 1 0 -8.6 0M377.78 129.7a4.3 4.3 0 1 0 8.6 0a4.3 4.3 0 1 0 -8.6 0M379.32 131.55a4.3 4.3 0 1 0 8.6 0a4.3 4.3 0 1 0 -8.6 0M380.82 133.6a4.3 4.3 0 1 0 8.6 0a4.3 4.3 0 1 0 -8.6 0M382.29 135.85a4.3 4.3 0 1 0 8.6 0a4.3 4.3 0 1 0 -8.6 0M383.72 138.27a4.3 4.3 0 1 0 8.6 0a4.3 4.3 0 1 0 -8.6 0M385.12 140.87a4.3 4.3 0 1 0 8.6 0a4.3 4.3 0 1 0 -8.6 0M386.48 143.63a4.3 4.3 0 1 0 8.6 0a4.3 4.3 0 1 0 -8.6 0M387.82 146.54a4.3 4.3 0 1 0 8.6 0a4.3 4.3 0 1 0 -8.6 0M389.13 149.59a4.3 4.3 0 1 0 8.6 0a4.3 4.3 0 1 0 -8.6 0M390.41 152.75a4.3 4.3 0 1 0 8.6 0a4.3 4.3 0 1 0 -8.6 0M391.66 156.01a4.3 4.3 0 1 0 8.6 0a4.3 4.3 0 1 0 -8.6 0M392.89 159.36a4.3 4.3 0 1 0 8.6 0a4.3 4.3 0 1 0 -8.6 0M394.09 162.78a4.3 4.3 0 1 0 8.6 0a4.3 4.3 0 1 0 -8.6 0M395.27 166.27a4.3 4.3 0 1 0 8.6 0a4.3 4.3 0 1 0 -8.6 0M396.43 169.81a4.3 4.3 0 1 0 8.6 0a4.3 4.3 0 1 0 -8.6 0M397.57 173.39a4.3 4.3 0 1 0 8.6 0a4.3 4.3 0 1 0 -8.6 0M398.68 177a4.3 4.3 0 1 0 8.6 0a4.3 4.3 0 1 0 -8.6 0M399.78 180.65a4.3 4.3 0 1 0 8.6 0a4.3 4.3 0 1 0 -8.6 0M400.85 184.31a4.3 4.3 0 1 0 8.6 0a4.3 4.3 0 1 0 -8.6 0M401.91 187.99a4.3 4.3 0 1 0 8.6 0a4.3 4.3 0 1 0 -8.6 0M402.95 191.68a4.3 4.3 0 1 0 8.6 0a4.3 4.3 0 1 0 -8.6 0M403.97 195.37a4.3 4.3 0 1 0 8.6 0a4.3 4.3 0 1 0 -8.6 0M404.98 199.06a4.3 4.3 0 1 0 8.6 0a4.3 4.3 0 1 0 -8.6 0M405.97 202.75a4.3 4.3 0 1 0 8.6 0a4.3 4.3 0 1 0 -8.6 0M406.94 206.42a4.3 4.3 0 1 0 8.6 0a4.3 4.3 0 1 0 -8.6 0M407.9 210.08a4.3 4.3 0 1 0 8.6 0a4.3 4.3 0 1 0 -8.6 0M408.84 213.73a4.3 4.3 0 1 0 8.6 0a4.3 4.3 0 1 0 -8.6 0M409.77 217.35a4.3 4.3 0 1 0 8.6 0a4.3 4.3 0 1 0 -8.6 0M410.68 220.96a4.3 4.3 0 1 0 8.6 0a4.3 4.3 0 1 0 -8.6 0M411.58 224.54a4.3 4.3 0 1 0 8.6 0a4.3 4.3 0 1 0 -8.6 0M412.47 228.08a4.3 4.3 0 1 0 8.6 0a4.3 4.3 0 1 0 -8.6 0M413.35 231.6a4.3 4.3 0 1 0 8.6 0a4.3 4.3 0 1 0 -8.6 0M414.21 235.07a4.3 4.3 0 1 0 8.6 0a4.3 4.3 0 1 0 -8.6 0M415.06 238.51a4.3 4.3 0 1 0 8.6 0a4.3 4.3 0 1 0 -8.6 0M415.9 241.9a4.3 4.3 0 1 0 8.6 0a4.3 4.3 0 1 0 -8.6 0M416.72 245.25a4.3 4.3 0 1 0 8.6 0a4.3 4.3 0 1 0 -8.6 0M417.54 248.55a4.3 4.3 0 1 0 8.6 0a4.3 4.3 0 1 0 -8.6 0M418.35 251.8a4.3 4.3 0 1 0 8.6 0a4.3 4.3 0 1 0 -8.6 0M419.14 255.01a4.3 4.3 0 1 0 8.6 0a4.3 4.3 0 1 0 -8.6 0M419.93 258.16a4.3 4.3 0 1 0 8.6 0a4.3 4.3 0 1 0 -8.6 0M420.7 261.25a4.3 4.3 0 1 0 8.6 0a4.3 4.3 0 1 0 -8.6 0M421.46 264.3a4.3 4.3 0 1 0 8.6 0a4.3 4.3 0 1 0 -8.6 0M422.22 267.29a4.3 4.3 0 1 0 8.6 0a4.3 4.3 0 1 0 -8.6 0M422.97 270.22a4.3 4.3 0 1 0 8.6 0a4.3 4.3 0 1 0 -8.6 0M423.7 273.1a4.3 4.3 0 1 0 8.6 0a4.3 4.3 0 1 0 -8.6 0M424.43 275.91a4.3 4.3 0 1 0 8.6 0a4.3 4.3 0 1 0 -8.6 0M425.15 278.67a4.3 4.3 0 1 0 8.6 0a4.3 4.3 0 1 0 -8.6 0M425.86 281.37a4.3 4.3 0 1 0 8.6 0a4.3 4.3 0 1 0 -8.6 0M426.56 284.02a4.3 4.3 0 1 0 8.6 0a4.3 4.3 0 1 0 -8.6 0M427.26 286.6a4.3 4.3 0 1 0 8.6 0a4.3 4.3 0 1 0 -8.6 0M427.95 289.12a4.3 4.3 0 1 0 8.6 0a4.3 4.3 0 1 0 -8.6 0M428.63 291.58a4.3 4.3 0 1 0 8.6 0a4.3 4.3 0 1 0 -8.6 0M429.3 293.99a4.3 4.3 0 1 0 8.6 0a4.3 4.3 0 1 0 -8.6 0M429.96 296.33a4.3 4.3 0 1 0 8.6 0a4.3 4.3 0 1 0 -8.6 0M430.62 298.61a4.3 4.3 0 1 0 8.6 0a4.3 4.3 0 1 0 -8.6 0M431.27 300.84a4.3 4.3 0 1 0 8.6 0a4.3 4.3 0 1 0 -8.6 0M431.91 303a4.3 4.3 0 1 0 8.6 0a4.3 4.3 0 1 0 -8.6 0M432.55 305.1a4.3 4.3 0 1 0 8.6 0a4.3 4.3 0 1 0 -8.6 0M433.18 307.15a4.3 4.3 0 1 0 8.6 0a4.3 4.3 0 1 0 -8.6 0M433.8 309.13a4.3 4.3 0 1 0 8.6 0a4.3 4.3 0 1 0 -8.6 0M434.42 311.05a4.3 4.3 0 1 0 8.6 0a4.3 4.3 0 1 0 -8.6 0M435.03 312.92a4.3 4.3 0 1 0 8.6 0a4.3 4.3 0 1 0 -8.6 0M435.64 314.73a4.3 4.3 0 1 0 8.6 0a4.3 4.3 0 1 0 -8.6 0M436.24 316.48a4.3 4.3 0 1 0 8.6 0a4.3 4.3 0 1 0 -8.6 0M436.83 318.18a4.3 4.3 0 1 0 8.6 0a4.3 4.3 0 1 0 -8.6 0M437.42 319.83a4.3 4.3 0 1 0 8.6 0a4.3 4.3 0 1 0 -8.6 0M438 321.42a4.3 4.3 0 1 0 8.6 0a4.3 4.3 0 1 0 -8.6 0M438.57 322.96a4.3 4.3 0 1 0 8.6 0a4.3 4.3 0 1 0 -8.6 0M439.15 324.45a4.3 4.3 0 1 0 8.6 0a4.3 4.3 0 1 0 -8.6 0M439.71 325.89a4.3 4.3 0 1 0 8.6 0a4.3 4.3 0 1 0 -8.6 0M440.27 327.28a4.3 4.3 0 1 0 8.6 0a4.3 4.3 0 1 0 -8.6 0M440.83 328.62a4.3 4.3 0 1 0 8.6 0a4.3 4.3 0 1 0 -8.6 0M441.38 329.91a4.3 4.3 0 1 0 8.6 0a4.3 4.3 0 1 0 -8.6 0M441.92 331.16a4.3 4.3 0 1 0 8.6 0a4.3 4.3 0 1 0 -8.6 0M442.46 332.36a4.3 4.3 0 1 0 8.6 0a4.3 4.3 0 1 0 -8.6 0M443 333.52a4.3 4.3 0 1 0 8.6 0a4.3 4.3 0 1 0 -8.6 0M443.53 334.64a4.3 4.3 0 1 0 8.6 0a4.3 4.3 0 1 0 -8.6 0M444.06 335.71a4.3 4.3 0 1 0 8.6 0a4.3 4.3 0 1 0 -8.6 0M444.58 336.74a4.3 4.3 0 1 0 8.6 0a4.3 4.3 0 1 0 -8.6 0M445.1 337.72a4.3 4.3 0 1 0 8.6 0a4.3 4.3 0 1 0 -8.6 0M445.61 338.67a4.3 4.3 0 1 0 8.6 0a4.3 4.3 0 1 0 -8.6 0M446.12 339.58a4.3 4.3 0 1 0 8.6 0a4.3 4.3 0 1 0 -8.6 0M446.62 340.44a4.3 4.3 0 1 0 8.6 0a4.3 4.3 0 1 0 -8.6 0M447.12 341.27a4.3 4.3 0 1 0 8.6 0a4.3 4.3 0 1 0 -8.6 0M447.62 342.06a4.3 4.3 0 1 0 8.6 0a4.3 4.3 0 1 0 -8.6 0M448.11 342.81a4.3 4.3 0 1 0 8.6 0a4.3 4.3 0 1 0 -8.6 0M448.6 343.53a4.3 4.3 0 1 0 8.6 0a4.3 4.3 0 1 0 -8.6 0M449.08 344.21a4.3 4.3 0 1 0 8.6 0a4.3 4.3 0 1 0 -8.6 0M449.56 344.85a4.3 4.3 0 1 0 8.6 0a4.3 4.3 0 1 0 -8.6 0M450.04 345.46a4.3 4.3 0 1 0 8.6 0a4.3 4.3 0 1 0 -8.6 0M450.51 346.03a4.3 4.3 0 1 0 8.6 0a4.3 4.3 0 1 0 -8.6 0M450.98 346.57a4.3 4.3 0 1 0 8.6 0a4.3 4.3 0 1 0 -8.6 0M451.45 347.08a4.3 4.3 0 1 0 8.6 0a4.3 4.3 0 1 0 -8.6 0M451.91 347.55a4.3 4.3 0 1 0 8.6 0a4.3 4.3 0 1 0 -8.6 0M452.37 348a4.3 4.3 0 1 0 8.6 0a4.3 4.3 0 1 0 -8.6 0M452.83 348.41a4.3 4.3 0 1 0 8.6 0a4.3 4.3 0 1 0 -8.6 0M453.28 348.78a4.3 4.3 0 1 0 8.6 0a4.3 4.3 0 1 0 -8.6 0M453.73 349.13a4.3 4.3 0 1 0 8.6 0a4.3 4.3 0 1 0 -8.6 0M454.17 349.45a4.3 4.3 0 1 0 8.6 0a4.3 4.3 0 1 0 -8.6 0M454.61 349.74a4.3 4.3 0 1 0 8.6 0a4.3 4.3 0 1 0 -8.6 0M455.05 350a4.3 4.3 0 1 0 8.6 0a4.3 4.3 0 1 0 -8.6 0M455.49 350.23a4.3 4.3 0 1 0 8.6 0a4.3 4.3 0 1 0 -8.6 0M455.92 350.43a4.3 4.3 0 1 0 8.6 0a4.3 4.3 0 1 0 -8.6 0M456.35 350.6a4.3 4.3 0 1 0 8.6 0a4.3 4.3 0 1 0 -8.6 0M456.78 350.75a4.3 4.3 0 1 0 8.6 0a4.3 4.3 0 1 0 -8.6 0M457.2 350.87a4.3 4.3 0 1 0 8.6 0a4.3 4.3 0 1 0 -8.6 0M457.62 350.96a4.3 4.3 0 1 0 8.6 0a4.3 4.3 0 1 0 -8.6 0M458.04 350.27a4.3 4.3 0 1 0 8.6 0a4.3 4.3 0 1 0 -8.6 0M458.46 350.55a4.3 4.3 0 1 0 8.6 0a4.3 4.3 0 1 0 -8.6 0M458.87 350.21a4.3 4.3 0 1 0 8.6 0a4.3 4.3 0 1 0 -8.6 0M459.28 350.81a4.3 4.3 0 1 0 8.6 0a4.3 4.3 0 1 0 -8.6 0M459.68 350.15a4.3 4.3 0 1 0 8.6 0a4.3 4.3 0 1 0 -8.6 0M460.09 351.05a4.3 4.3 0 1 0 8.6 0a4.3 4.3 0 1 0 -8.6 0M460.49 350.09a4.3 4.3 0 1 0 8.6 0a4.3 4.3 0 1 0 -8.6 0M460.89 351.28a4.3 4.3 0 1 0 8.6 0a4.3 4.3 0 1 0 -8.6 0M461.28 350.03a4.3 4.3 0 1 0 8.6 0a4.3 4.3 0 1 0 -8.6 0M461.68 351.49a4.3 4.3 0 1 0 8.6 0a4.3 4.3 0 1 0 -8.6 0M462.07 349.97a4.3 4.3 0 1 0 8.6 0a4.3 4.3 0 1 0 -8.6 0M462.46 351.69a4.3 4.3 0 1 0 8.6 0a4.3 4.3 0 1 0 -8.6 0M462.84 349.9a4.3 4.3 0 1 0 8.6 0a4.3 4.3 0 1 0 -8.6 0M463.23 351.86a4.3 4.3 0 1 0 8.6 0a4.3 4.3 0 1 0 -8.6 0M463.61 349.82a4.3 4.3 0 1 0 8.6 0a4.3 4.3 0 1 0 -8.6 0M463.99 352.03a4.3 4.3 0 1 0 8.6 0a4.3 4.3 0 1 0 -8.6 0M464.36 349.76a4.3 4.3 0 1 0 8.6 0a4.3 4.3 0 1 0 -8.6 0M464.74 352.21a4.3 4.3 0 1 0 8.6 0a4.3 4.3 0 1 0 -8.6 0M465.11 349.71a4.3 4.3 0 1 0 8.6 0a4.3 4.3 0 1 0 -8.6 0M465.48 352.35a4.3 4.3 0 1 0 8.6 0a4.3 4.3 0 1 0 -8.6 0M465.85 349.7a4.3 4.3 0 1 0 8.6 0a4.3 4.3 0 1 0 -8.6 0M466.21 352.46a4.3 4.3 0 1 0 8.6 0a4.3 4.3 0 1 0 -8.6 0M466.58 349.73a4.3 4.3 0 1 0 8.6 0a4.3 4.3 0 1 0 -8.6 0M466.94 352.59a4.3 4.3 0 1 0 8.6 0a4.3 4.3 0 1 0 -8.6 0M467.29 349.81a4.3 4.3 0 1 0 8.6 0a4.3 4.3 0 1 0 -8.6 0M467.65 352.76a4.3 4.3 0 1 0 8.6 0a4.3 4.3 0 1 0 -8.6 0M468.01 349.91a4.3 4.3 0 1 0 8.6 0a4.3 4.3 0 1 0 -8.6 0M468.36 353.03a4.3 4.3 0 1 0 8.6 0a4.3 4.3 0 1 0 -8.6 0M468.71 350.04a4.3 4.3 0 1 0 8.6 0a4.3 4.3 0 1 0 -8.6 0M469.06 354.07a4.3 4.3 0 1 0 8.6 0a4.3 4.3 0 1 0 -8.6 0M469.4 350.19a4.3 4.3 0 1 0 8.6 0a4.3 4.3 0 1 0 -8.6 0M469.75 357.51a4.3 4.3 0 1 0 8.6 0a4.3 4.3 0 1 0 -8.6 0M470.09 350.35a4.3 4.3 0 1 0 8.6 0a4.3 4.3 0 1 0 -8.6 0M470.43 359.86a4.3 4.3 0 1 0 8.6 0a4.3 4.3 0 1 0 -8.6 0M470.77 350.52a4.3 4.3 0 1 0 8.6 0a4.3 4.3 0 1 0 -8.6 0M471.11 361.34a4.3 4.3 0 1 0 8.6 0a4.3 4.3 0 1 0 -8.6 0M471.44 350.79a4.3 4.3 0 1 0 8.6 0a4.3 4.3 0 1 0 -8.6 0M471.78 361.54a4.3 4.3 0 1 0 8.6 0a4.3 4.3 0 1 0 -8.6 0M472.11 351.18a4.3 4.3 0 1 0 8.6 0a4.3 4.3 0 1 0 -8.6 0M472.44 361.63a4.3 4.3 0 1 0 8.6 0a4.3 4.3 0 1 0 -8.6 0M472.76 351.62a4.3 4.3 0 1 0 8.6 0a4.3 4.3 0 1 0 -8.6 0M473.09 361.7a4.3 4.3 0 1 0 8.6 0a4.3 4.3 0 1 0 -8.6 0M473.41 352.04a4.3 4.3 0 1 0 8.6 0a4.3 4.3 0 1 0 -8.6 0M473.74 361.81a4.3 4.3 0 1 0 8.6 0a4.3 4.3 0 1 0 -8.6 0M474.06 352.38a4.3 4.3 0 1 0 8.6 0a4.3 4.3 0 1 0 -8.6 0M474.38 362.05a4.3 4.3 0 1 0 8.6 0a4.3 4.3 0 1 0 -8.6 0M474.69 352.57a4.3 4.3 0 1 0 8.6 0a4.3 4.3 0 1 0 -8.6 0M475.01 362.38a4.3 4.3 0 1 0 8.6 0a4.3 4.3 0 1 0 -8.6 0M475.32 352.58a4.3 4.3 0 1 0 8.6 0a4.3 4.3 0 1 0 -8.6 0M475.64 362.67a4.3 4.3 0 1 0 8.6 0a4.3 4.3 0 1 0 -8.6 0M475.95 352.46a4.3 4.3 0 1 0 8.6 0a4.3 4.3 0 1 0 -8.6 0M476.26 362.8a4.3 4.3 0 1 0 8.6 0a4.3 4.3 0 1 0 -8.6 0M476.56 352.26a4.3 4.3 0 1 0 8.6 0a4.3 4.3 0 1 0 -8.6 0M476.87 362.8a4.3 4.3 0 1 0 8.6 0a4.3 4.3 0 1 0 -8.6 0M477.18 352.02a4.3 4.3 0 1 0 8.6 0a4.3 4.3 0 1 0 -8.6 0M477.48 362.8a4.3 4.3 0 1 0 8.6 0a4.3 4.3 0 1 0 -8.6 0M477.78 351.76a4.3 4.3 0 1 0 8.6 0a4.3 4.3 0 1 0 -8.6 0M478.08 362.8a4.3 4.3 0 1 0 8.6 0a4.3 4.3 0 1 0 -8.6 0M478.38 351.53a4.3 4.3 0 1 0 8.6 0a4.3 4.3 0 1 0 -8.6 0M478.68 362.8a4.3 4.3 0 1 0 8.6 0a4.3 4.3 0 1 0 -8.6 0M478.97 351.35a4.3 4.3 0 1 0 8.6 0a4.3 4.3 0 1 0 -8.6 0M479.27 362.8a4.3 4.3 0 1 0 8.6 0a4.3 4.3 0 1 0 -8.6 0M479.56 351.23a4.3 4.3 0 1 0 8.6 0a4.3 4.3 0 1 0 -8.6 0M479.85 362.8a4.3 4.3 0 1 0 8.6 0a4.3 4.3 0 1 0 -8.6 0M480.14 351.12a4.3 4.3 0 1 0 8.6 0a4.3 4.3 0 1 0 -8.6 0M480.43 362.8a4.3 4.3 0 1 0 8.6 0a4.3 4.3 0 1 0 -8.6 0M480.72 351.01a4.3 4.3 0 1 0 8.6 0a4.3 4.3 0 1 0 -8.6 0M481 362.8a4.3 4.3 0 1 0 8.6 0a4.3 4.3 0 1 0 -8.6 0M481.29 350.9a4.3 4.3 0 1 0 8.6 0a4.3 4.3 0 1 0 -8.6 0M481.57 362.75a4.3 4.3 0 1 0 8.6 0a4.3 4.3 0 1 0 -8.6 0M481.86 350.8a4.3 4.3 0 1 0 8.6 0a4.3 4.3 0 1 0 -8.6 0M482.14 362a4.3 4.3 0 1 0 8.6 0a4.3 4.3 0 1 0 -8.6 0M482.42 350.72a4.3 4.3 0 1 0 8.6 0a4.3 4.3 0 1 0 -8.6 0M482.69 360.88a4.3 4.3 0 1 0 8.6 0a4.3 4.3 0 1 0 -8.6 0M482.97 350.64a4.3 4.3 0 1 0 8.6 0a4.3 4.3 0 1 0 -8.6 0M483.25 359.84a4.3 4.3 0 1 0 8.6 0a4.3 4.3 0 1 0 -8.6 0M483.52 350.58a4.3 4.3 0 1 0 8.6 0a4.3 4.3 0 1 0 -8.6 0M483.79 358.67a4.3 4.3 0 1 0 8.6 0a4.3 4.3 0 1 0 -8.6 0M484.07 350.54a4.3 4.3 0 1 0 8.6 0a4.3 4.3 0 1 0 -8.6 0M484.34 357.57a4.3 4.3 0 1 0 8.6 0a4.3 4.3 0 1 0 -8.6 0M484.61 350.51a4.3 4.3 0 1 0 8.6 0a4.3 4.3 0 1 0 -8.6 0M484.88 356.77a4.3 4.3 0 1 0 8.6 0a4.3 4.3 0 1 0 -8.6 0M485.14 350.5a4.3 4.3 0 1 0 8.6 0a4.3 4.3 0 1 0 -8.6 0M485.41 356.12a4.3 4.3 0 1 0 8.6 0a4.3 4.3 0 1 0 -8.6 0M485.67 350.51a4.3 4.3 0 1 0 8.6 0a4.3 4.3 0 1 0 -8.6 0M485.94 355.54a4.3 4.3 0 1 0 8.6 0a4.3 4.3 0 1 0 -8.6 0M486.2 350.54a4.3 4.3 0 1 0 8.6 0a4.3 4.3 0 1 0 -8.6 0M486.46 355.03a4.3 4.3 0 1 0 8.6 0a4.3 4.3 0 1 0 -8.6 0M486.72 350.58a4.3 4.3 0 1 0 8.6 0a4.3 4.3 0 1 0 -8.6 0M486.98 354.61a4.3 4.3 0 1 0 8.6 0a4.3 4.3 0 1 0 -8.6 0M487.24 350.63a4.3 4.3 0 1 0 8.6 0a4.3 4.3 0 1 0 -8.6 0M487.5 354.3a4.3 4.3 0 1 0 8.6 0a4.3 4.3 0 1 0 -8.6 0M487.75 350.69a4.3 4.3 0 1 0 8.6 0a4.3 4.3 0 1 0 -8.6 0M488.01 354.07a4.3 4.3 0 1 0 8.6 0a4.3 4.3 0 1 0 -8.6 0M488.26 350.75a4.3 4.3 0 1 0 8.6 0a4.3 4.3 0 1 0 -8.6 0M488.51 353.88a4.3 4.3 0 1 0 8.6 0a4.3 4.3 0 1 0 -8.6 0M488.77 350.82a4.3 4.3 0 1 0 8.6 0a4.3 4.3 0 1 0 -8.6 0M489.02 353.72a4.3 4.3 0 1 0 8.6 0a4.3 4.3 0 1 0 -8.6 0M489.27 350.9a4.3 4.3 0 1 0 8.6 0a4.3 4.3 0 1 0 -8.6 0M489.52 353.58a4.3 4.3 0 1 0 8.6 0a4.3 4.3 0 1 0 -8.6 0M489.76 350.99a4.3 4.3 0 1 0 8.6 0a4.3 4.3 0 1 0 -8.6 0M490.01 353.46a4.3 4.3 0 1 0 8.6 0a4.3 4.3 0 1 0 -8.6 0M490.26 351.11a4.3 4.3 0 1 0 8.6 0a4.3 4.3 0 1 0 -8.6 0M490.5 353.37a4.3 4.3 0 1 0 8.6 0a4.3 4.3 0 1 0 -8.6 0M490.74 351.27a4.3 4.3 0 1 0 8.6 0a4.3 4.3 0 1 0 -8.6 0M490.99 353.3a4.3 4.3 0 1 0 8.6 0a4.3 4.3 0 1 0 -8.6 0M491.23 351.43a4.3 4.3 0 1 0 8.6 0a4.3 4.3 0 1 0 -8.6 0M491.47 353.25a4.3 4.3 0 1 0 8.6 0a4.3 4.3 0 1 0 -8.6 0M491.71 351.61a4.3 4.3 0 1 0 8.6 0a4.3 4.3 0 1 0 -8.6 0M491.95 353.2a4.3 4.3 0 1 0 8.6 0a4.3 4.3 0 1 0 -8.6 0M492.19 351.79a4.3 4.3 0 1 0 8.6 0a4.3 4.3 0 1 0 -8.6 0M492.42 353.15a4.3 4.3 0 1 0 8.6 0a4.3 4.3 0 1 0 -8.6 0M492.66 351.95a4.3 4.3 0 1 0 8.6 0a4.3 4.3 0 1 0 -8.6 0M492.89 353.11a4.3 4.3 0 1 0 8.6 0a4.3 4.3 0 1 0 -8.6 0M493.13 352.1a4.3 4.3 0 1 0 8.6 0a4.3 4.3 0 1 0 -8.6 0M493.36 353.07a4.3 4.3 0 1 0 8.6 0a4.3 4.3 0 1 0 -8.6 0M493.59 352.22a4.3 4.3 0 1 0 8.6 0a4.3 4.3 0 1 0 -8.6 0M493.83 353.04a4.3 4.3 0 1 0 8.6 0a4.3 4.3 0 1 0 -8.6 0M494.06 352.33a4.3 4.3 0 1 0 8.6 0a4.3 4.3 0 1 0 -8.6 0M494.29 353.02a4.3 4.3 0 1 0 8.6 0a4.3 4.3 0 1 0 -8.6 0M494.52 352.43a4.3 4.3 0 1 0 8.6 0a4.3 4.3 0 1 0 -8.6 0M494.74 353a4.3 4.3 0 1 0 8.6 0a4.3 4.3 0 1 0 -8.6 0M494.97 352.53a4.3 4.3 0 1 0 8.6 0a4.3 4.3 0 1 0 -8.6 0M495.2 353a4.3 4.3 0 1 0 8.6 0a4.3 4.3 0 1 0 -8.6 0M495.42 352.62a4.3 4.3 0 1 0 8.6 0a4.3 4.3 0 1 0 -8.6 0M495.65 353.01a4.3 4.3 0 1 0 8.6 0a4.3 4.3 0 1 0 -8.6 0M495.87 352.7a4.3 4.3 0 1 0 8.6 0a4.3 4.3 0 1 0 -8.6 0M496.09 353.02a4.3 4.3 0 1 0 8.6 0a4.3 4.3 0 1 0 -8.6 0M496.32 352.79a4.3 4.3 0 1 0 8.6 0a4.3 4.3 0 1 0 -8.6 0M496.54 353.05a4.3 4.3 0 1 0 8.6 0a4.3 4.3 0 1 0 -8.6 0M496.76 352.87a4.3 4.3 0 1 0 8.6 0a4.3 4.3 0 1 0 -8.6 0M496.98 353.09a4.3 4.3 0 1 0 8.6 0a4.3 4.3 0 1 0 -8.6 0M497.2 352.95a4.3 4.3 0 1 0 8.6 0a4.3 4.3 0 1 0 -8.6 0M497.42 353.13a4.3 4.3 0 1 0 8.6 0a4.3 4.3 0 1 0 -8.6 0M497.63 353.03a4.3 4.3 0 1 0 8.6 0a4.3 4.3 0 1 0 -8.6 0M497.85 353.18a4.3 4.3 0 1 0 8.6 0a4.3 4.3 0 1 0 -8.6 0M498.07 353.11a4.3 4.3 0 1 0 8.6 0a4.3 4.3 0 1 0 -8.6 0M498.28 353.23a4.3 4.3 0 1 0 8.6 0a4.3 4.3 0 1 0 -8.6 0M498.5 353.19a4.3 4.3 0 1 0 8.6 0a4.3 4.3 0 1 0 -8.6 0M498.71 353.29a4.3 4.3 0 1 0 8.6 0a4.3 4.3 0 1 0 -8.6 0M498.92 353.28a4.3 4.3 0 1 0 8.6 0a4.3 4.3 0 1 0 -8.6 0M499.14 353.35a4.3 4.3 0 1 0 8.6 0a4.3 4.3 0 1 0 -8.6 0M499.35 353.37a4.3 4.3 0 1 0 8.6 0a4.3 4.3 0 1 0 -8.6 0M499.56 353.41a4.3 4.3 0 1 0 8.6 0a4.3 4.3 0 1 0 -8.6 0M499.77 353.46a4.3 4.3 0 1 0 8.6 0a4.3 4.3 0 1 0 -8.6 0M499.98 353.49a4.3 4.3 0 1 0 8.6 0a4.3 4.3 0 1 0 -8.6 0M500.19 353.57a4.3 4.3 0 1 0 8.6 0a4.3 4.3 0 1 0 -8.6 0M500.39 353.6a4.3 4.3 0 1 0 8.6 0a4.3 4.3 0 1 0 -8.6 0M500.6 353.69a4.3 4.3 0 1 0 8.6 0a4.3 4.3 0 1 0 -8.6 0M500.81 353.73a4.3 4.3 0 1 0 8.6 0a4.3 4.3 0 1 0 -8.6 0M501.01 353.81a4.3 4.3 0 1 0 8.6 0a4.3 4.3 0 1 0 -8.6 0M501.22 353.88a4.3 4.3 0 1 0 8.6 0a4.3 4.3 0 1 0 -8.6 0M501.42 353.94a4.3 4.3 0 1 0 8.6 0a4.3 4.3 0 1 0 -8.6 0M501.63 354.05a4.3 4.3 0 1 0 8.6 0a4.3 4.3 0 1 0 -8.6 0M501.83 354.07a4.3 4.3 0 1 0 8.6 0a4.3 4.3 0 1 0 -8.6 0M502.03 354.22a4.3 4.3 0 1 0 8.6 0a4.3 4.3 0 1 0 -8.6 0M502.23 354.2a4.3 4.3 0 1 0 8.6 0a4.3 4.3 0 1 0 -8.6 0M502.43 354.4a4.3 4.3 0 1 0 8.6 0a4.3 4.3 0 1 0 -8.6 0M502.63 354.33a4.3 4.3 0 1 0 8.6 0a4.3 4.3 0 1 0 -8.6 0M502.83 354.58a4.3 4.3 0 1 0 8.6 0a4.3 4.3 0 1 0 -8.6 0M503.03 354.45a4.3 4.3 0 1 0 8.6 0a4.3 4.3 0 1 0 -8.6 0M503.23 354.75a4.3 4.3 0 1 0 8.6 0a4.3 4.3 0 1 0 -8.6 0M503.43 354.56a4.3 4.3 0 1 0 8.6 0a4.3 4.3 0 1 0 -8.6 0M503.63 354.92a4.3 4.3 0 1 0 8.6 0a4.3 4.3 0 1 0 -8.6 0M503.82 354.66a4.3 4.3 0 1 0 8.6 0a4.3 4.3 0 1 0 -8.6 0M504.02 355.07a4.3 4.3 0 1 0 8.6 0a4.3 4.3 0 1 0 -8.6 0M504.21 354.74a4.3 4.3 0 1 0 8.6 0a4.3 4.3 0 1 0 -8.6 0M504.41 355.21a4.3 4.3 0 1 0 8.6 0a4.3 4.3 0 1 0 -8.6 0M504.6 354.81a4.3 4.3 0 1 0 8.6 0a4.3 4.3 0 1 0 -8.6 0M504.8 355.32a4.3 4.3 0 1 0 8.6 0a4.3 4.3 0 1 0 -8.6 0M504.99 354.86a4.3 4.3 0 1 0 8.6 0a4.3 4.3 0 1 0 -8.6 0M505.18 355.42a4.3 4.3 0 1 0 8.6 0a4.3 4.3 0 1 0 -8.6 0M505.37 354.89a4.3 4.3 0 1 0 8.6 0a4.3 4.3 0 1 0 -8.6 0M505.56 355.48a4.3 4.3 0 1 0 8.6 0a4.3 4.3 0 1 0 -8.6 0M505.75 354.9a4.3 4.3 0 1 0 8.6 0a4.3 4.3 0 1 0 -8.6 0M505.94 355.53a4.3 4.3 0 1 0 8.6 0a4.3 4.3 0 1 0 -8.6 0M506.13 354.9a4.3 4.3 0 1 0 8.6 0a4.3 4.3 0 1 0 -8.6 0M506.32 355.57a4.3 4.3 0 1 0 8.6 0a4.3 4.3 0 1 0 -8.6 0M506.51 354.9a4.3 4.3 0 1 0 8.6 0a4.3 4.3 0 1 0 -8.6 0M506.7 355.6a4.3 4.3 0 1 0 8.6 0a4.3 4.3 0 1 0 -8.6 0M506.88 354.9a4.3 4.3 0 1 0 8.6 0a4.3 4.3 0 1 0 -8.6 0M507.07 355.64a4.3 4.3 0 1 0 8.6 0a4.3 4.3 0 1 0 -8.6 0M507.25 354.9a4.3 4.3 0 1 0 8.6 0a4.3 4.3 0 1 0 -8.6 0M507.44 355.68a4.3 4.3 0 1 0 8.6 0a4.3 4.3 0 1 0 -8.6 0M507.62 354.9a4.3 4.3 0 1 0 8.6 0a4.3 4.3 0 1 0 -8.6 0M507.81 355.71a4.3 4.3 0 1 0 8.6 0a4.3 4.3 0 1 0 -8.6 0M507.99 354.9a4.3 4.3 0 1 0 8.6 0a4.3 4.3 0 1 0 -8.6 0M508.17 355.74a4.3 4.3 0 1 0 8.6 0a4.3 4.3 0 1 0 -8.6 0M508.36 354.9a4.3 4.3 0 1 0 8.6 0a4.3 4.3 0 1 0 -8.6 0M508.54 355.77a4.3 4.3 0 1 0 8.6 0a4.3 4.3 0 1 0 -8.6 0M508.72 354.9a4.3 4.3 0 1 0 8.6 0a4.3 4.3 0 1 0 -8.6 0M508.9 355.8a4.3 4.3 0 1 0 8.6 0a4.3 4.3 0 1 0 -8.6 0M509.08 354.9a4.3 4.3 0 1 0 8.6 0a4.3 4.3 0 1 0 -8.6 0M509.26 355.83a4.3 4.3 0 1 0 8.6 0a4.3 4.3 0 1 0 -8.6 0M509.44 354.9a4.3 4.3 0 1 0 8.6 0a4.3 4.3 0 1 0 -8.6 0M509.62 355.86a4.3 4.3 0 1 0 8.6 0a4.3 4.3 0 1 0 -8.6 0M509.8 354.9a4.3 4.3 0 1 0 8.6 0a4.3 4.3 0 1 0 -8.6 0M509.97 355.89a4.3 4.3 0 1 0 8.6 0a4.3 4.3 0 1 0 -8.6 0M510.15 354.9a4.3 4.3 0 1 0 8.6 0a4.3 4.3 0 1 0 -8.6 0M510.33 355.91a4.3 4.3 0 1 0 8.6 0a4.3 4.3 0 1 0 -8.6 0M510.5 354.9a4.3 4.3 0 1 0 8.6 0a4.3 4.3 0 1 0 -8.6 0M510.68 355.93a4.3 4.3 0 1 0 8.6 0a4.3 4.3 0 1 0 -8.6 0M510.85 354.9a4.3 4.3 0 1 0 8.6 0a4.3 4.3 0 1 0 -8.6 0M511.03 355.95a4.3 4.3 0 1 0 8.6 0a4.3 4.3 0 1 0 -8.6 0M511.2 354.9a4.3 4.3 0 1 0 8.6 0a4.3 4.3 0 1 0 -8.6 0M511.37 355.97a4.3 4.3 0 1 0 8.6 0a4.3 4.3 0 1 0 -8.6 0M511.55 354.9a4.3 4.3 0 1 0 8.6 0a4.3 4.3 0 1 0 -8.6 0M511.72 355.99a4.3 4.3 0 1 0 8.6 0a4.3 4.3 0 1 0 -8.6 0M511.89 354.9a4.3 4.3 0 1 0 8.6 0a4.3 4.3 0 1 0 -8.6 0M512.06 356.01a4.3 4.3 0 1 0 8.6 0a4.3 4.3 0 1 0 -8.6 0M512.23 354.9a4.3 4.3 0 1 0 8.6 0a4.3 4.3 0 1 0 -8.6 0M512.41 356.03a4.3 4.3 0 1 0 8.6 0a4.3 4.3 0 1 0 -8.6 0M512.58 354.9a4.3 4.3 0 1 0 8.6 0a4.3 4.3 0 1 0 -8.6 0M512.75 356.04a4.3 4.3 0 1 0 8.6 0a4.3 4.3 0 1 0 -8.6 0M512.91 354.9a4.3 4.3 0 1 0 8.6 0a4.3 4.3 0 1 0 -8.6 0M513.08 356.05a4.3 4.3 0 1 0 8.6 0a4.3 4.3 0 1 0 -8.6 0M513.25 354.9a4.3 4.3 0 1 0 8.6 0a4.3 4.3 0 1 0 -8.6 0M513.42 356.06a4.3 4.3 0 1 0 8.6 0a4.3 4.3 0 1 0 -8.6 0M513.59 354.9a4.3 4.3 0 1 0 8.6 0a4.3 4.3 0 1 0 -8.6 0M513.75 356.07a4.3 4.3 0 1 0 8.6 0a4.3 4.3 0 1 0 -8.6 0M513.92 354.9a4.3 4.3 0 1 0 8.6 0a4.3 4.3 0 1 0 -8.6 0M514.09 356.08a4.3 4.3 0 1 0 8.6 0a4.3 4.3 0 1 0 -8.6 0M514.25 354.9a4.3 4.3 0 1 0 8.6 0a4.3 4.3 0 1 0 -8.6 0M514.42 356.09a4.3 4.3 0 1 0 8.6 0a4.3 4.3 0 1 0 -8.6 0M514.58 354.9a4.3 4.3 0 1 0 8.6 0a4.3 4.3 0 1 0 -8.6 0M514.74 356.09a4.3 4.3 0 1 0 8.6 0a4.3 4.3 0 1 0 -8.6 0M514.91 354.9a4.3 4.3 0 1 0 8.6 0a4.3 4.3 0 1 0 -8.6 0M515.07 356.1a4.3 4.3 0 1 0 8.6 0a4.3 4.3 0 1 0 -8.6 0M515.23 354.9a4.3 4.3 0 1 0 8.6 0a4.3 4.3 0 1 0 -8.6 0M515.4 356.1a4.3 4.3 0 1 0 8.6 0a4.3 4.3 0 1 0 -8.6 0M515.56 354.9a4.3 4.3 0 1 0 8.6 0a4.3 4.3 0 1 0 -8.6 0M515.72 356.1a4.3 4.3 0 1 0 8.6 0a4.3 4.3 0 1 0 -8.6 0M515.88 354.9a4.3 4.3 0 1 0 8.6 0a4.3 4.3 0 1 0 -8.6 0M516.04 356.1a4.3 4.3 0 1 0 8.6 0a4.3 4.3 0 1 0 -8.6 0M516.2 354.9a4.3 4.3 0 1 0 8.6 0a4.3 4.3 0 1 0 -8.6 0M516.36 356.1a4.3 4.3 0 1 0 8.6 0a4.3 4.3 0 1 0 -8.6 0M516.52 354.9a4.3 4.3 0 1 0 8.6 0a4.3 4.3 0 1 0 -8.6 0M516.68 356.1a4.3 4.3 0 1 0 8.6 0a4.3 4.3 0 1 0 -8.6 0M516.84 354.9a4.3 4.3 0 1 0 8.6 0a4.3 4.3 0 1 0 -8.6 0M517 356.1a4.3 4.3 0 1 0 8.6 0a4.3 4.3 0 1 0 -8.6 0M517.15 354.91a4.3 4.3 0 1 0 8.6 0a4.3 4.3 0 1 0 -8.6 0M517.31 356.1a4.3 4.3 0 1 0 8.6 0a4.3 4.3 0 1 0 -8.6 0M517.47 354.91a4.3 4.3 0 1 0 8.6 0a4.3 4.3 0 1 0 -8.6 0M517.62 356.1a4.3 4.3 0 1 0 8.6 0a4.3 4.3 0 1 0 -8.6 0M517.78 354.91a4.3 4.3 0 1 0 8.6 0a4.3 4.3 0 1 0 -8.6 0M517.94 356.1a4.3 4.3 0 1 0 8.6 0a4.3 4.3 0 1 0 -8.6 0M518.09 354.91a4.3 4.3 0 1 0 8.6 0a4.3 4.3 0 1 0 -8.6 0M518.25 356.1a4.3 4.3 0 1 0 8.6 0a4.3 4.3 0 1 0 -8.6 0M518.4 354.92a4.3 4.3 0 1 0 8.6 0a4.3 4.3 0 1 0 -8.6 0M518.56 356.1a4.3 4.3 0 1 0 8.6 0a4.3 4.3 0 1 0 -8.6 0M518.71 354.92a4.3 4.3 0 1 0 8.6 0a4.3 4.3 0 1 0 -8.6 0M518.86 356.1a4.3 4.3 0 1 0 8.6 0a4.3 4.3 0 1 0 -8.6 0M519.02 354.93a4.3 4.3 0 1 0 8.6 0a4.3 4.3 0 1 0 -8.6 0M519.17 356.1a4.3 4.3 0 1 0 8.6 0a4.3 4.3 0 1 0 -8.6 0M519.32 354.93a4.3 4.3 0 1 0 8.6 0a4.3 4.3 0 1 0 -8.6 0M519.47 356.1a4.3 4.3 0 1 0 8.6 0a4.3 4.3 0 1 0 -8.6 0M519.62 354.93a4.3 4.3 0 1 0 8.6 0a4.3 4.3 0 1 0 -8.6 0M519.77 356.1a4.3 4.3 0 1 0 8.6 0a4.3 4.3 0 1 0 -8.6 0M519.93 354.94a4.3 4.3 0 1 0 8.6 0a4.3 4.3 0 1 0 -8.6 0M520.08 356.1a4.3 4.3 0 1 0 8.6 0a4.3 4.3 0 1 0 -8.6 0M520.23 354.94a4.3 4.3 0 1 0 8.6 0a4.3 4.3 0 1 0 -8.6 0M520.38 356.1a4.3 4.3 0 1 0 8.6 0a4.3 4.3 0 1 0 -8.6 0M520.52 354.95a4.3 4.3 0 1 0 8.6 0a4.3 4.3 0 1 0 -8.6 0M520.67 356.1a4.3 4.3 0 1 0 8.6 0a4.3 4.3 0 1 0 -8.6 0M520.82 354.95a4.3 4.3 0 1 0 8.6 0a4.3 4.3 0 1 0 -8.6 0M520.97 356.1a4.3 4.3 0 1 0 8.6 0a4.3 4.3 0 1 0 -8.6 0M521.12 354.96a4.3 4.3 0 1 0 8.6 0a4.3 4.3 0 1 0 -8.6 0M521.26 356.1a4.3 4.3 0 1 0 8.6 0a4.3 4.3 0 1 0 -8.6 0M521.41 354.96a4.3 4.3 0 1 0 8.6 0a4.3 4.3 0 1 0 -8.6 0M521.56 356.1a4.3 4.3 0 1 0 8.6 0a4.3 4.3 0 1 0 -8.6 0M521.7 354.96a4.3 4.3 0 1 0 8.6 0a4.3 4.3 0 1 0 -8.6 0M521.85 356.1a4.3 4.3 0 1 0 8.6 0a4.3 4.3 0 1 0 -8.6 0M522 354.97a4.3 4.3 0 1 0 8.6 0a4.3 4.3 0 1 0 -8.6 0M522.14 356.1a4.3 4.3 0 1 0 8.6 0a4.3 4.3 0 1 0 -8.6 0M522.29 354.97a4.3 4.3 0 1 0 8.6 0a4.3 4.3 0 1 0 -8.6 0M522.43 356.1a4.3 4.3 0 1 0 8.6 0a4.3 4.3 0 1 0 -8.6 0M522.58 354.98a4.3 4.3 0 1 0 8.6 0a4.3 4.3 0 1 0 -8.6 0M522.72 356.1a4.3 4.3 0 1 0 8.6 0a4.3 4.3 0 1 0 -8.6 0M522.86 354.98a4.3 4.3 0 1 0 8.6 0a4.3 4.3 0 1 0 -8.6 0M523.01 356.1a4.3 4.3 0 1 0 8.6 0a4.3 4.3 0 1 0 -8.6 0M523.15 354.98a4.3 4.3 0 1 0 8.6 0a4.3 4.3 0 1 0 -8.6 0M523.29 356.1a4.3 4.3 0 1 0 8.6 0a4.3 4.3 0 1 0 -8.6 0M523.43 354.99a4.3 4.3 0 1 0 8.6 0a4.3 4.3 0 1 0 -8.6 0M523.58 356.1a4.3 4.3 0 1 0 8.6 0a4.3 4.3 0 1 0 -8.6 0M523.72 354.99a4.3 4.3 0 1 0 8.6 0a4.3 4.3 0 1 0 -8.6 0M523.86 356.1a4.3 4.3 0 1 0 8.6 0a4.3 4.3 0 1 0 -8.6 0M524 354.99a4.3 4.3 0 1 0 8.6 0a4.3 4.3 0 1 0 -8.6 0M524.14 356.1a4.3 4.3 0 1 0 8.6 0a4.3 4.3 0 1 0 -8.6 0M524.28 354.99a4.3 4.3 0 1 0 8.6 0a4.3 4.3 0 1 0 -8.6 0M524.42 356.1a4.3 4.3 0 1 0 8.6 0a4.3 4.3 0 1 0 -8.6 0M524.56 355a4.3 4.3 0 1 0 8.6 0a4.3 4.3 0 1 0 -8.6 0M524.7 356.1a4.3 4.3 0 1 0 8.6 0a4.3 4.3 0 1 0 -8.6 0M524.84 355a4.3 4.3 0 1 0 8.6 0a4.3 4.3 0 1 0 -8.6 0M524.98 356.1a4.3 4.3 0 1 0 8.6 0a4.3 4.3 0 1 0 -8.6 0M525.12 355a4.3 4.3 0 1 0 8.6 0a4.3 4.3 0 1 0 -8.6 0M525.25 356.1a4.3 4.3 0 1 0 8.6 0a4.3 4.3 0 1 0 -8.6 0M525.39 355a4.3 4.3 0 1 0 8.6 0a4.3 4.3 0 1 0 -8.6 0M525.53 356.1a4.3 4.3 0 1 0 8.6 0a4.3 4.3 0 1 0 -8.6 0M525.67 355a4.3 4.3 0 1 0 8.6 0a4.3 4.3 0 1 0 -8.6 0M525.8 356.1a4.3 4.3 0 1 0 8.6 0a4.3 4.3 0 1 0 -8.6 0M525.94 355a4.3 4.3 0 1 0 8.6 0a4.3 4.3 0 1 0 -8.6 0M526.07 356.1a4.3 4.3 0 1 0 8.6 0a4.3 4.3 0 1 0 -8.6 0M526.21 355a4.3 4.3 0 1 0 8.6 0a4.3 4.3 0 1 0 -8.6 0M526.35 356.1a4.3 4.3 0 1 0 8.6 0a4.3 4.3 0 1 0 -8.6 0M526.48 355a4.3 4.3 0 1 0 8.6 0a4.3 4.3 0 1 0 -8.6 0M526.62 356.1a4.3 4.3 0 1 0 8.6 0a4.3 4.3 0 1 0 -8.6 0M526.75 355a4.3 4.3 0 1 0 8.6 0a4.3 4.3 0 1 0 -8.6 0M526.89 356.1a4.3 4.3 0 1 0 8.6 0a4.3 4.3 0 1 0 -8.6 0M527.02 355a4.3 4.3 0 1 0 8.6 0a4.3 4.3 0 1 0 -8.6 0M527.15 356.1a4.3 4.3 0 1 0 8.6 0a4.3 4.3 0 1 0 -8.6 0M527.29 355a4.3 4.3 0 1 0 8.6 0a4.3 4.3 0 1 0 -8.6 0M527.42 356.1a4.3 4.3 0 1 0 8.6 0a4.3 4.3 0 1 0 -8.6 0M527.55 355a4.3 4.3 0 1 0 8.6 0a4.3 4.3 0 1 0 -8.6 0M527.69 356.1a4.3 4.3 0 1 0 8.6 0a4.3 4.3 0 1 0 -8.6 0M527.82 355a4.3 4.3 0 1 0 8.6 0a4.3 4.3 0 1 0 -8.6 0M527.95 356.1a4.3 4.3 0 1 0 8.6 0a4.3 4.3 0 1 0 -8.6 0M528.08 355a4.3 4.3 0 1 0 8.6 0a4.3 4.3 0 1 0 -8.6 0M528.21 356.1a4.3 4.3 0 1 0 8.6 0a4.3 4.3 0 1 0 -8.6 0M528.34 355a4.3 4.3 0 1 0 8.6 0a4.3 4.3 0 1 0 -8.6 0M528.48 356.1a4.3 4.3 0 1 0 8.6 0a4.3 4.3 0 1 0 -8.6 0M528.61 354.99a4.3 4.3 0 1 0 8.6 0a4.3 4.3 0 1 0 -8.6 0M528.74 356.1a4.3 4.3 0 1 0 8.6 0a4.3 4.3 0 1 0 -8.6 0M528.87 354.99a4.3 4.3 0 1 0 8.6 0a4.3 4.3 0 1 0 -8.6 0M529 356.1a4.3 4.3 0 1 0 8.6 0a4.3 4.3 0 1 0 -8.6 0M529.13 354.99a4.3 4.3 0 1 0 8.6 0a4.3 4.3 0 1 0 -8.6 0M529.25 356.1a4.3 4.3 0 1 0 8.6 0a4.3 4.3 0 1 0 -8.6 0M529.38 354.99a4.3 4.3 0 1 0 8.6 0a4.3 4.3 0 1 0 -8.6 0M529.51 356.1a4.3 4.3 0 1 0 8.6 0a4.3 4.3 0 1 0 -8.6 0M529.64 354.99a4.3 4.3 0 1 0 8.6 0a4.3 4.3 0 1 0 -8.6 0M529.77 356.1a4.3 4.3 0 1 0 8.6 0a4.3 4.3 0 1 0 -8.6 0M529.9 354.99a4.3 4.3 0 1 0 8.6 0a4.3 4.3 0 1 0 -8.6 0M530.02 356.1a4.3 4.3 0 1 0 8.6 0a4.3 4.3 0 1 0 -8.6 0M530.15 354.99a4.3 4.3 0 1 0 8.6 0a4.3 4.3 0 1 0 -8.6 0M530.28 356.1a4.3 4.3 0 1 0 8.6 0a4.3 4.3 0 1 0 -8.6 0M530.41 354.99a4.3 4.3 0 1 0 8.6 0a4.3 4.3 0 1 0 -8.6 0M530.53 356.1a4.3 4.3 0 1 0 8.6 0a4.3 4.3 0 1 0 -8.6 0M530.66 354.98a4.3 4.3 0 1 0 8.6 0a4.3 4.3 0 1 0 -8.6 0M530.78 356.1a4.3 4.3 0 1 0 8.6 0a4.3 4.3 0 1 0 -8.6 0M530.91 354.98a4.3 4.3 0 1 0 8.6 0a4.3 4.3 0 1 0 -8.6 0M531.04 356.1a4.3 4.3 0 1 0 8.6 0a4.3 4.3 0 1 0 -8.6 0M531.16 354.98a4.3 4.3 0 1 0 8.6 0a4.3 4.3 0 1 0 -8.6 0M531.29 356.1a4.3 4.3 0 1 0 8.6 0a4.3 4.3 0 1 0 -8.6 0M531.41 354.98a4.3 4.3 0 1 0 8.6 0a4.3 4.3 0 1 0 -8.6 0M531.54 356.1a4.3 4.3 0 1 0 8.6 0a4.3 4.3 0 1 0 -8.6 0M531.66 354.98a4.3 4.3 0 1 0 8.6 0a4.3 4.3 0 1 0 -8.6 0M531.78 356.1a4.3 4.3 0 1 0 8.6 0a4.3 4.3 0 1 0 -8.6 0M531.91 354.98a4.3 4.3 0 1 0 8.6 0a4.3 4.3 0 1 0 -8.6 0M532.03 356.1a4.3 4.3 0 1 0 8.6 0a4.3 4.3 0 1 0 -8.6 0M532.15 354.97a4.3 4.3 0 1 0 8.6 0a4.3 4.3 0 1 0 -8.6 0M532.28 356.1a4.3 4.3 0 1 0 8.6 0a4.3 4.3 0 1 0 -8.6 0M532.4 354.97a4.3 4.3 0 1 0 8.6 0a4.3 4.3 0 1 0 -8.6 0M532.52 356.1a4.3 4.3 0 1 0 8.6 0a4.3 4.3 0 1 0 -8.6 0M532.64 354.97a4.3 4.3 0 1 0 8.6 0a4.3 4.3 0 1 0 -8.6 0M532.77 356.1a4.3 4.3 0 1 0 8.6 0a4.3 4.3 0 1 0 -8.6 0M532.89 354.97a4.3 4.3 0 1 0 8.6 0a4.3 4.3 0 1 0 -8.6 0M533.01 356.1a4.3 4.3 0 1 0 8.6 0a4.3 4.3 0 1 0 -8.6 0M533.13 354.96a4.3 4.3 0 1 0 8.6 0a4.3 4.3 0 1 0 -8.6 0M533.25 356.1a4.3 4.3 0 1 0 8.6 0a4.3 4.3 0 1 0 -8.6 0M533.37 354.96a4.3 4.3 0 1 0 8.6 0a4.3 4.3 0 1 0 -8.6 0M533.49 356.1a4.3 4.3 0 1 0 8.6 0a4.3 4.3 0 1 0 -8.6 0M533.61 354.96a4.3 4.3 0 1 0 8.6 0a4.3 4.3 0 1 0 -8.6 0M533.73 356.1a4.3 4.3 0 1 0 8.6 0a4.3 4.3 0 1 0 -8.6 0M533.85 354.96a4.3 4.3 0 1 0 8.6 0a4.3 4.3 0 1 0 -8.6 0M533.97 356.1a4.3 4.3 0 1 0 8.6 0a4.3 4.3 0 1 0 -8.6 0M534.09 354.95a4.3 4.3 0 1 0 8.6 0a4.3 4.3 0 1 0 -8.6 0M534.21 356.1a4.3 4.3 0 1 0 8.6 0a4.3 4.3 0 1 0 -8.6 0M534.33 354.95a4.3 4.3 0 1 0 8.6 0a4.3 4.3 0 1 0 -8.6 0M534.45 356.1a4.3 4.3 0 1 0 8.6 0a4.3 4.3 0 1 0 -8.6 0M534.57 354.95a4.3 4.3 0 1 0 8.6 0a4.3 4.3 0 1 0 -8.6 0M534.68 356.1a4.3 4.3 0 1 0 8.6 0a4.3 4.3 0 1 0 -8.6 0M534.8 354.94a4.3 4.3 0 1 0 8.6 0a4.3 4.3 0 1 0 -8.6 0M534.92 356.1a4.3 4.3 0 1 0 8.6 0a4.3 4.3 0 1 0 -8.6 0M535.04 354.94a4.3 4.3 0 1 0 8.6 0a4.3 4.3 0 1 0 -8.6 0M535.16 356.1a4.3 4.3 0 1 0 8.6 0a4.3 4.3 0 1 0 -8.6 0M535.27 354.94a4.3 4.3 0 1 0 8.6 0a4.3 4.3 0 1 0 -8.6 0M535.39 356.1a4.3 4.3 0 1 0 8.6 0a4.3 4.3 0 1 0 -8.6 0M535.51 354.93a4.3 4.3 0 1 0 8.6 0a4.3 4.3 0 1 0 -8.6 0M535.62 356.1a4.3 4.3 0 1 0 8.6 0a4.3 4.3 0 1 0 -8.6 0M535.74 354.93a4.3 4.3 0 1 0 8.6 0a4.3 4.3 0 1 0 -8.6 0M535.85 356.1a4.3 4.3 0 1 0 8.6 0a4.3 4.3 0 1 0 -8.6 0M535.97 354.93a4.3 4.3 0 1 0 8.6 0a4.3 4.3 0 1 0 -8.6 0M536.09 356.1a4.3 4.3 0 1 0 8.6 0a4.3 4.3 0 1 0 -8.6 0M536.2 354.92a4.3 4.3 0 1 0 8.6 0a4.3 4.3 0 1 0 -8.6 0M536.32 356.1a4.3 4.3 0 1 0 8.6 0a4.3 4.3 0 1 0 -8.6 0M536.43 354.92a4.3 4.3 0 1 0 8.6 0a4.3 4.3 0 1 0 -8.6 0M536.55 356.1a4.3 4.3 0 1 0 8.6 0a4.3 4.3 0 1 0 -8.6 0M536.66 354.92a4.3 4.3 0 1 0 8.6 0a4.3 4.3 0 1 0 -8.6 0M536.77 356.1a4.3 4.3 0 1 0 8.6 0a4.3 4.3 0 1 0 -8.6 0M536.89 354.91a4.3 4.3 0 1 0 8.6 0a4.3 4.3 0 1 0 -8.6 0M537 356.1a4.3 4.3 0 1 0 8.6 0a4.3 4.3 0 1 0 -8.6 0M537.11 354.91a4.3 4.3 0 1 0 8.6 0a4.3 4.3 0 1 0 -8.6 0M537.23 356.1a4.3 4.3 0 1 0 8.6 0a4.3 4.3 0 1 0 -8.6 0M537.34 354.9a4.3 4.3 0 1 0 8.6 0a4.3 4.3 0 1 0 -8.6 0M537.45 356.1a4.3 4.3 0 1 0 8.6 0a4.3 4.3 0 1 0 -8.6 0M537.57 354.9a4.3 4.3 0 1 0 8.6 0a4.3 4.3 0 1 0 -8.6 0" fill="none" stroke="#0072BD" stroke-width="2.5"/>
<!-- legend -->
<rect x="66.5" y="58.5" width="218.5" height="59.7" fill="#fff" stroke="#262626" stroke-width="1.2"/>
<line x1="70.9" y1="69.5" x2="115.9" y2="69.5" stroke="#1a1a1a" stroke-width="1.1"/>
<line x1="70.9" y1="88.2" x2="115.9" y2="88.2" stroke="#D95319" stroke-width="2.2"/>
<circle cx="93.4" cy="88.2" r="4.3" fill="none" stroke="#D95319" stroke-width="2.5"/>
<line x1="70.9" y1="106.7" x2="115.9" y2="106.7" stroke="#0072BD" stroke-width="2.2"/>
<circle cx="93.4" cy="106.7" r="4.3" fill="none" stroke="#0072BD" stroke-width="2.5"/>
<g font-size="13.5px" fill="#000">
<text x="119" y="75.3" style="fill:#000">Kaimal spectrum</text>
<text x="119" y="93.7" style="fill:#000">0.5m above the water level</text>
<text x="119" y="111.9" style="fill:#000">1.5m above the water level</text>
</g>
<!-- title -->
<g font-weight="bold" font-size="16.4px" text-anchor="middle">
<text x="298.4" y="17.9" style="fill:#000">General average non-normalized spectrum</text>
<text x="298.4" y="40.1" style="fill:#000">compared to the Kaimal spectrum</text>
</g>
<!-- y tick labels -->
<g font-size="14.3px" text-anchor="end">
<text x="48.5" y="52.2">10</text>
<text x="48.5" y="114.1">8</text>
<text x="48.5" y="176.0">6</text>
<text x="48.5" y="237.9">4</text>
<text x="48.5" y="299.8">2</text>
<text x="48.5" y="361.8">0</text>
<text x="52.2" y="423.7">&#8722;2</text>
</g>
<!-- exponent -->
<text x="55.4" y="43.2" font-size="16.5px">&#215;</text>
<text x="66.5" y="42.6" font-size="14.3px">10</text>
<text x="83.4" y="35.8" font-size="12.3px">-3</text>
<!-- x tick labels -->
<g font-size="14.5px">
<text x="40.6" y="444.3">10</text><text x="57.3" y="438" font-size="11.5px">-4</text>
<text x="180.6" y="444.3">10</text><text x="197.3" y="438" font-size="11.5px">-3</text>
<text x="320.6" y="444.3">10</text><text x="337.3" y="438" font-size="11.5px">-2</text>
<text x="460.6" y="444.3">10</text><text x="477.3" y="438" font-size="11.5px">-1</text>
</g>
<text x="298.4" y="465.6" font-size="16.5px" text-anchor="middle">Frequency n [Hz]</text>
<g transform="translate(22.7,232.2) rotate(-90)">
<text x="0" y="0" font-size="16.6px" text-anchor="middle">Non-normalized spectrum nS(n) [m<tspan font-size="12px" dy="-7.5">2</tspan><tspan dy="7.5">/s</tspan><tspan font-size="12px" dy="-7.5">2</tspan><tspan dy="7.5">]</tspan></text>
</g>
</svg>
</body></html>
